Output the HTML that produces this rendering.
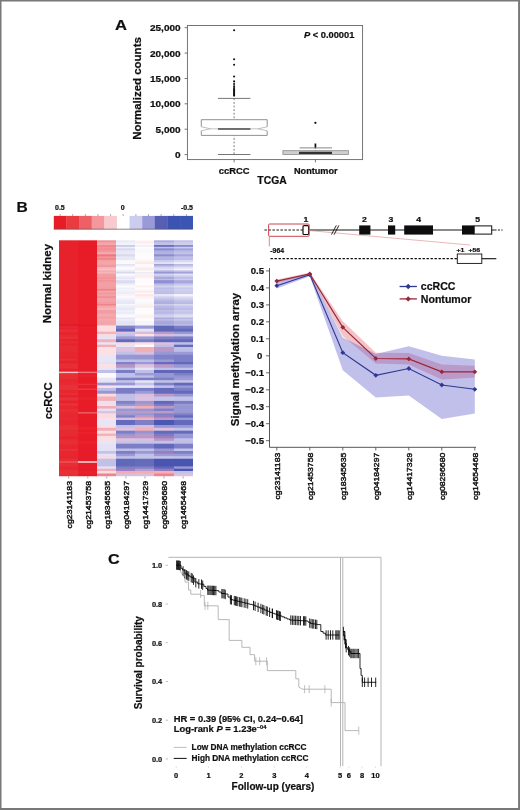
<!DOCTYPE html>
<html><head><meta charset="utf-8"><title>Figure</title>
<style>html,body{margin:0;padding:0;background:#fff}svg{display:block}text{font-family:"Liberation Sans",sans-serif}</style></head><body>
<svg width="520" height="810" viewBox="0 0 520 810">
<rect x="0" y="0" width="520" height="810" fill="#fff"/>
<path d="M0 0H520V810H0Z M1.5 1.5V808.1H518.1V1.5Z" fill="#787878" fill-rule="evenodd"/>
<defs><filter id="soft" x="0" y="0" width="520" height="810" filterUnits="userSpaceOnUse"><feGaussianBlur stdDeviation="0.3"/></filter></defs>
<g filter="url(#soft)">
<g id="panelA">
<text transform="translate(114.9 30) scale(1.12 1)" font-size="14.82" font-weight="bold" text-anchor="start" fill="#111" stroke="#111" stroke-width="0.22">A</text>
<rect x="187.4" y="25.5" width="175.20000000000002" height="134.1" fill="none" stroke="#666" stroke-width="0.9"/>
<line x1="184.6" y1="154.6" x2="187.4" y2="154.6" stroke="#555" stroke-width="0.8"/>
<text transform="translate(180.6 158.0) scale(1.09 1)" font-size="9.2" font-weight="bold" text-anchor="end" fill="#111" stroke="#111" stroke-width="0.22">0</text>
<line x1="184.6" y1="129.2" x2="187.4" y2="129.2" stroke="#555" stroke-width="0.8"/>
<text transform="translate(180.6 132.7) scale(1.09 1)" font-size="9.2" font-weight="bold" text-anchor="end" fill="#111" stroke="#111" stroke-width="0.22">5,000</text>
<line x1="184.6" y1="103.8" x2="187.4" y2="103.8" stroke="#555" stroke-width="0.8"/>
<text transform="translate(180.6 107.3) scale(1.09 1)" font-size="9.2" font-weight="bold" text-anchor="end" fill="#111" stroke="#111" stroke-width="0.22">10,000</text>
<line x1="184.6" y1="78.5" x2="187.4" y2="78.5" stroke="#555" stroke-width="0.8"/>
<text transform="translate(180.6 81.9) scale(1.09 1)" font-size="9.2" font-weight="bold" text-anchor="end" fill="#111" stroke="#111" stroke-width="0.22">15,000</text>
<line x1="184.6" y1="53.1" x2="187.4" y2="53.1" stroke="#555" stroke-width="0.8"/>
<text transform="translate(180.6 56.5) scale(1.09 1)" font-size="9.2" font-weight="bold" text-anchor="end" fill="#111" stroke="#111" stroke-width="0.22">20,000</text>
<line x1="184.6" y1="27.7" x2="187.4" y2="27.7" stroke="#555" stroke-width="0.8"/>
<text transform="translate(180.6 31.2) scale(1.09 1)" font-size="9.2" font-weight="bold" text-anchor="end" fill="#111" stroke="#111" stroke-width="0.22">25,000</text>
<text transform="translate(141.3 88.5) rotate(-90) scale(1.1 1)" font-size="10.45" font-weight="bold" text-anchor="middle" fill="#111" stroke="#111" stroke-width="0.22">Normalized counts</text>
<line x1="234.1" y1="98.4" x2="234.1" y2="154.5" stroke="#666" stroke-width="0.9" stroke-dasharray="1.8 1.8"/>
<path d="M201.3 119.7 H267.2 V135.4 H201.3 Z" fill="#fff" stroke="none"/>
<path d="M201.3 126.8 V119.7 H267.2 V126.8 M267.2 130.8 V135.4 H201.3 V130.8" fill="none" stroke="#858585" stroke-width="0.9"/>
<path d="M201.3 126.8 L210.5 128.8 L201.3 130.8 M267.2 126.8 L258 128.8 L267.2 130.8" fill="none" stroke="#b0b0b0" stroke-width="0.8"/>
<rect x="199" y="127.3" width="2.2" height="3" fill="#fff"/><rect x="267.4" y="127.3" width="2.2" height="3" fill="#fff"/>
<line x1="218" y1="128.8" x2="250.4" y2="128.8" stroke="#333" stroke-width="1.7"/>
<line x1="210.5" y1="128.8" x2="258" y2="128.8" stroke="#aaa" stroke-width="0.7"/>
<line x1="218" y1="98.4" x2="250.4" y2="98.4" stroke="#666" stroke-width="0.9"/>
<line x1="218" y1="154.5" x2="250.4" y2="154.5" stroke="#666" stroke-width="0.9"/>
<circle cx="234.1" cy="30.2" r="1.05" fill="#111"/>
<circle cx="234.1" cy="59.3" r="1.05" fill="#111"/>
<circle cx="234.1" cy="64.7" r="1.05" fill="#111"/>
<circle cx="234.1" cy="76.5" r="1.05" fill="#111"/>
<circle cx="234.1" cy="81.4" r="1.05" fill="#111"/>
<circle cx="234.1" cy="84" r="1.05" fill="#111"/>
<circle cx="234.1" cy="86.2" r="1.05" fill="#111"/>
<circle cx="234.1" cy="88" r="1.05" fill="#111"/>
<circle cx="234.1" cy="89.4" r="1.05" fill="#111"/>
<circle cx="234.1" cy="90.6" r="1.05" fill="#111"/>
<circle cx="234.1" cy="91.8" r="1.05" fill="#111"/>
<circle cx="234.1" cy="92.8" r="1.05" fill="#111"/>
<circle cx="234.1" cy="93.8" r="1.05" fill="#111"/>
<circle cx="234.1" cy="94.8" r="1.05" fill="#111"/>
<circle cx="234.1" cy="95.6" r="1.05" fill="#111"/>
<rect x="282.9" y="150.7" width="65.5" height="3.7" fill="#cfcfcf" stroke="#8a8a8a" stroke-width="0.8"/>
<line x1="299" y1="152.9" x2="332" y2="152.9" stroke="#333" stroke-width="2.1"/>
<line x1="299.6" y1="147.9" x2="332" y2="147.9" stroke="#777" stroke-width="0.9"/>
<line x1="315.4" y1="147.9" x2="315.4" y2="150.7" stroke="#777" stroke-width="0.8" stroke-dasharray="1 1"/>
<circle cx="315.4" cy="122.8" r="1.15" fill="#111"/>
<line x1="315.4" y1="143.5" x2="315.4" y2="147.6" stroke="#111" stroke-width="1.7"/>
<line x1="234.1" y1="159.6" x2="234.1" y2="162.4" stroke="#555" stroke-width="0.8"/>
<line x1="315.4" y1="159.6" x2="315.4" y2="162.4" stroke="#555" stroke-width="0.8"/>
<text transform="translate(234.1 173.5) scale(1.07 1)" font-size="8.79" font-weight="bold" text-anchor="middle" fill="#111" stroke="#111" stroke-width="0.22">ccRCC</text>
<text transform="translate(315.8 173.5) scale(1.07 1)" font-size="8.55" font-weight="bold" text-anchor="middle" fill="#111" stroke="#111" stroke-width="0.22">Nontumor</text>
<text transform="translate(272 184.4) scale(1.035 1)" font-size="10.05" font-weight="bold" text-anchor="middle" fill="#111" stroke="#111" stroke-width="0.22">TCGA</text>
<text transform="translate(304 38.3) scale(1.03 1)" font-size="9.03" font-weight="bold" text-anchor="start" fill="#111" stroke="#111" stroke-width="0.22"><tspan font-style="italic">P</tspan> &lt; 0.00001</text>
</g>
<g id="panelB">
<text transform="translate(16.6 211.6) scale(1.06 1)" font-size="14.7" font-weight="bold" text-anchor="start" fill="#111" stroke="#111" stroke-width="0.22">B</text>
<rect x="53.80" y="215.9" width="12.93" height="13.299999999999983" fill="#e81e28"/>
<rect x="66.43" y="215.9" width="12.93" height="13.299999999999983" fill="#ea3a40"/>
<rect x="79.05" y="215.9" width="12.93" height="13.299999999999983" fill="#ee6065"/>
<rect x="91.68" y="215.9" width="12.93" height="13.299999999999983" fill="#f3989d"/>
<rect x="104.31" y="215.9" width="12.93" height="13.299999999999983" fill="#f8cace"/>
<rect x="116.94" y="215.9" width="12.93" height="13.299999999999983" fill="#ffffff"/>
<rect x="129.56" y="215.9" width="12.93" height="13.299999999999983" fill="#ccccee"/>
<rect x="142.19" y="215.9" width="12.93" height="13.299999999999983" fill="#9a9ad9"/>
<rect x="154.82" y="215.9" width="12.93" height="13.299999999999983" fill="#565eb4"/>
<rect x="167.45" y="215.9" width="12.93" height="13.299999999999983" fill="#3e52b1"/>
<rect x="180.07" y="215.9" width="12.93" height="13.299999999999983" fill="#3a54b4"/>
<line x1="53.8" y1="229.2" x2="192.7" y2="229.2" stroke="#555" stroke-width="0.7"/>
<line x1="60.1" y1="214.1" x2="60.1" y2="215.9" stroke="#666" stroke-width="0.6"/>
<line x1="72.7" y1="214.1" x2="72.7" y2="215.9" stroke="#666" stroke-width="0.6"/>
<line x1="85.4" y1="214.1" x2="85.4" y2="215.9" stroke="#666" stroke-width="0.6"/>
<line x1="98.0" y1="214.1" x2="98.0" y2="215.9" stroke="#666" stroke-width="0.6"/>
<line x1="110.6" y1="214.1" x2="110.6" y2="215.9" stroke="#666" stroke-width="0.6"/>
<line x1="123.2" y1="214.1" x2="123.2" y2="215.9" stroke="#666" stroke-width="0.6"/>
<line x1="135.9" y1="214.1" x2="135.9" y2="215.9" stroke="#666" stroke-width="0.6"/>
<line x1="148.5" y1="214.1" x2="148.5" y2="215.9" stroke="#666" stroke-width="0.6"/>
<line x1="161.1" y1="214.1" x2="161.1" y2="215.9" stroke="#666" stroke-width="0.6"/>
<line x1="173.8" y1="214.1" x2="173.8" y2="215.9" stroke="#666" stroke-width="0.6"/>
<line x1="186.4" y1="214.1" x2="186.4" y2="215.9" stroke="#666" stroke-width="0.6"/>
<text transform="translate(55 210.4) scale(1.0 1)" font-size="7.0" font-weight="bold" text-anchor="start" fill="#111" stroke="#111" stroke-width="0.22">0.5</text>
<text transform="translate(122.8 210.4) scale(1.0 1)" font-size="7.0" font-weight="bold" text-anchor="middle" fill="#111" stroke="#111" stroke-width="0.22">0</text>
<text transform="translate(193 210.4) scale(1.0 1)" font-size="7.0" font-weight="bold" text-anchor="end" fill="#111" stroke="#111" stroke-width="0.22">-0.5</text>
<defs><filter id="hb" x="-2%" y="-2%" width="104%" height="104%"><feGaussianBlur stdDeviation="0.35 0.55"/></filter></defs>
<g filter="url(#hb)" shape-rendering="crispEdges">
<rect x="59.20" y="240" width="19.56" height="1" fill="#ee646a"/>
<rect x="59.20" y="241" width="19.56" height="1" fill="#e7212a"/>
<rect x="59.20" y="242" width="19.56" height="1" fill="#e7242d"/>
<rect x="59.20" y="243" width="19.56" height="1" fill="#e7222b"/>
<rect x="59.20" y="244" width="19.56" height="3" fill="#e7212a"/>
<rect x="59.20" y="247" width="19.56" height="3" fill="#e7242d"/>
<rect x="59.20" y="250" width="19.56" height="1" fill="#e7222b"/>
<rect x="59.20" y="251" width="19.56" height="9" fill="#e7212a"/>
<rect x="59.20" y="260" width="19.56" height="2" fill="#e7242d"/>
<rect x="59.20" y="262" width="19.56" height="2" fill="#e7212d"/>
<rect x="59.20" y="264" width="19.56" height="8" fill="#e7242d"/>
<rect x="59.20" y="272" width="19.56" height="3" fill="#e7212a"/>
<rect x="59.20" y="275" width="19.56" height="1" fill="#e7222b"/>
<rect x="59.20" y="276" width="19.56" height="2" fill="#e7242d"/>
<rect x="59.20" y="278" width="19.56" height="1" fill="#e7232c"/>
<rect x="59.20" y="279" width="19.56" height="2" fill="#e7212a"/>
<rect x="59.20" y="281" width="19.56" height="1" fill="#e7222b"/>
<rect x="59.20" y="282" width="19.56" height="1" fill="#e7242d"/>
<rect x="59.20" y="283" width="19.56" height="1" fill="#e7222b"/>
<rect x="59.20" y="284" width="19.56" height="6" fill="#e7212a"/>
<rect x="59.20" y="290" width="19.56" height="1" fill="#e7222b"/>
<rect x="59.20" y="291" width="19.56" height="1" fill="#e7242d"/>
<rect x="59.20" y="292" width="19.56" height="1" fill="#e7232c"/>
<rect x="59.20" y="293" width="19.56" height="1" fill="#e7212a"/>
<rect x="59.20" y="294" width="19.56" height="2" fill="#e7242d"/>
<rect x="59.20" y="296" width="19.56" height="1" fill="#e7222b"/>
<rect x="59.20" y="297" width="19.56" height="2" fill="#e7212a"/>
<rect x="59.20" y="299" width="19.56" height="1" fill="#e7222b"/>
<rect x="59.20" y="300" width="19.56" height="1" fill="#e7242d"/>
<rect x="59.20" y="301" width="19.56" height="1" fill="#e7232c"/>
<rect x="59.20" y="302" width="19.56" height="2" fill="#e7212a"/>
<rect x="59.20" y="304" width="19.56" height="3" fill="#e7242d"/>
<rect x="59.20" y="307" width="19.56" height="1" fill="#e7232c"/>
<rect x="59.20" y="308" width="19.56" height="2" fill="#e7212a"/>
<rect x="59.20" y="310" width="19.56" height="3" fill="#e7242d"/>
<rect x="59.20" y="313" width="19.56" height="1" fill="#e7232c"/>
<rect x="59.20" y="314" width="19.56" height="1" fill="#e7212a"/>
<rect x="59.20" y="315" width="19.56" height="1" fill="#e7222b"/>
<rect x="59.20" y="316" width="19.56" height="4" fill="#e7242d"/>
<rect x="59.20" y="320" width="19.56" height="1" fill="#e7232c"/>
<rect x="59.20" y="321" width="19.56" height="3" fill="#e7212a"/>
<rect x="59.20" y="324" width="19.56" height="1" fill="#e01f27"/>
<rect x="59.20" y="325" width="19.56" height="1" fill="#da2028"/>
<rect x="59.20" y="326" width="19.56" height="1" fill="#e72730"/>
<rect x="59.20" y="327" width="19.56" height="1" fill="#e7252e"/>
<rect x="59.20" y="328" width="19.56" height="1" fill="#e7242d"/>
<rect x="59.20" y="329" width="19.56" height="1" fill="#e72b34"/>
<rect x="59.20" y="330" width="19.56" height="2" fill="#e72d36"/>
<rect x="59.20" y="332" width="19.56" height="1" fill="#e72730"/>
<rect x="59.20" y="333" width="19.56" height="1" fill="#e7242d"/>
<rect x="59.20" y="334" width="19.56" height="1" fill="#e7262f"/>
<rect x="59.20" y="335" width="19.56" height="2" fill="#e72a33"/>
<rect x="59.20" y="337" width="19.56" height="1" fill="#e73036"/>
<rect x="59.20" y="338" width="19.56" height="1" fill="#e72e35"/>
<rect x="59.20" y="339" width="19.56" height="2" fill="#e7242d"/>
<rect x="59.20" y="341" width="19.56" height="2" fill="#e72a33"/>
<rect x="59.20" y="343" width="19.56" height="1" fill="#e7252e"/>
<rect x="59.20" y="344" width="19.56" height="1" fill="#e7242d"/>
<rect x="59.20" y="345" width="19.56" height="1" fill="#e7272e"/>
<rect x="59.20" y="346" width="19.56" height="2" fill="#e72a30"/>
<rect x="59.20" y="348" width="19.56" height="1" fill="#e72a32"/>
<rect x="59.20" y="349" width="19.56" height="2" fill="#e72a33"/>
<rect x="59.20" y="351" width="19.56" height="1" fill="#e72932"/>
<rect x="59.20" y="352" width="19.56" height="4" fill="#e72730"/>
<rect x="59.20" y="356" width="19.56" height="1" fill="#e7252e"/>
<rect x="59.20" y="357" width="19.56" height="1" fill="#e7242d"/>
<rect x="59.20" y="358" width="19.56" height="1" fill="#e72b32"/>
<rect x="59.20" y="359" width="19.56" height="1" fill="#e72d33"/>
<rect x="59.20" y="360" width="19.56" height="1" fill="#e72a31"/>
<rect x="59.20" y="361" width="19.56" height="2" fill="#e7242d"/>
<rect x="59.20" y="363" width="19.56" height="1" fill="#e72932"/>
<rect x="59.20" y="364" width="19.56" height="4" fill="#e72d36"/>
<rect x="59.20" y="368" width="19.56" height="1" fill="#e72932"/>
<rect x="59.20" y="369" width="19.56" height="2" fill="#e7242d"/>
<rect x="59.20" y="371" width="19.56" height="1" fill="#ed545b"/>
<rect x="59.20" y="372" width="19.56" height="1" fill="#fac4c6"/>
<rect x="59.20" y="373" width="19.56" height="1" fill="#e93f44"/>
<rect x="59.20" y="374" width="19.56" height="1" fill="#e73036"/>
<rect x="59.20" y="375" width="19.56" height="1" fill="#e72e34"/>
<rect x="59.20" y="376" width="19.56" height="1" fill="#e72d33"/>
<rect x="59.20" y="377" width="19.56" height="2" fill="#e72d36"/>
<rect x="59.20" y="379" width="19.56" height="1" fill="#e72932"/>
<rect x="59.20" y="380" width="19.56" height="2" fill="#e72730"/>
<rect x="59.20" y="382" width="19.56" height="1" fill="#e72932"/>
<rect x="59.20" y="383" width="19.56" height="1" fill="#e72a33"/>
<rect x="59.20" y="384" width="19.56" height="1" fill="#e72c34"/>
<rect x="59.20" y="385" width="19.56" height="5" fill="#e73036"/>
<rect x="59.20" y="390" width="19.56" height="1" fill="#e7282e"/>
<rect x="59.20" y="391" width="19.56" height="1" fill="#e7272d"/>
<rect x="59.20" y="392" width="19.56" height="1" fill="#e7282f"/>
<rect x="59.20" y="393" width="19.56" height="2" fill="#e72d36"/>
<rect x="59.20" y="395" width="19.56" height="2" fill="#e7242d"/>
<rect x="59.20" y="397" width="19.56" height="1" fill="#e72b34"/>
<rect x="59.20" y="398" width="19.56" height="2" fill="#e73039"/>
<rect x="59.20" y="400" width="19.56" height="1" fill="#e72932"/>
<rect x="59.20" y="401" width="19.56" height="2" fill="#e7242d"/>
<rect x="59.20" y="403" width="19.56" height="1" fill="#e72e37"/>
<rect x="59.20" y="404" width="19.56" height="1" fill="#e73039"/>
<rect x="59.20" y="405" width="19.56" height="1" fill="#e72e37"/>
<rect x="59.20" y="406" width="19.56" height="3" fill="#e72730"/>
<rect x="59.20" y="409" width="19.56" height="3" fill="#e72d36"/>
<rect x="59.20" y="412" width="19.56" height="2" fill="#e72a33"/>
<rect x="59.20" y="414" width="19.56" height="3" fill="#e72730"/>
<rect x="59.20" y="417" width="19.56" height="1" fill="#e72932"/>
<rect x="59.20" y="418" width="19.56" height="2" fill="#e72a33"/>
<rect x="59.20" y="420" width="19.56" height="5" fill="#e72730"/>
<rect x="59.20" y="425" width="19.56" height="2" fill="#e72d36"/>
<rect x="59.20" y="427" width="19.56" height="2" fill="#e73036"/>
<rect x="59.20" y="429" width="19.56" height="1" fill="#e72f35"/>
<rect x="59.20" y="430" width="19.56" height="2" fill="#e72a33"/>
<rect x="59.20" y="432" width="19.56" height="1" fill="#e72a31"/>
<rect x="59.20" y="433" width="19.56" height="1" fill="#e72a30"/>
<rect x="59.20" y="434" width="19.56" height="1" fill="#e72a32"/>
<rect x="59.20" y="435" width="19.56" height="1" fill="#e72a33"/>
<rect x="59.20" y="436" width="19.56" height="1" fill="#e72831"/>
<rect x="59.20" y="437" width="19.56" height="2" fill="#e7242d"/>
<rect x="59.20" y="439" width="19.56" height="1" fill="#e72a33"/>
<rect x="59.20" y="440" width="19.56" height="1" fill="#e72d36"/>
<rect x="59.20" y="441" width="19.56" height="1" fill="#e72d34"/>
<rect x="59.20" y="442" width="19.56" height="2" fill="#e72d33"/>
<rect x="59.20" y="444" width="19.56" height="1" fill="#e72931"/>
<rect x="59.20" y="445" width="19.56" height="3" fill="#e72730"/>
<rect x="59.20" y="448" width="19.56" height="1" fill="#e72830"/>
<rect x="59.20" y="449" width="19.56" height="2" fill="#e73036"/>
<rect x="59.20" y="451" width="19.56" height="5" fill="#e72730"/>
<rect x="59.20" y="456" width="19.56" height="1" fill="#e7252e"/>
<rect x="59.20" y="457" width="19.56" height="1" fill="#e7242d"/>
<rect x="59.20" y="458" width="19.56" height="1" fill="#e72932"/>
<rect x="59.20" y="459" width="19.56" height="2" fill="#e72d36"/>
<rect x="59.20" y="461" width="19.56" height="2" fill="#ed494e"/>
<rect x="59.20" y="463" width="19.56" height="3" fill="#e72d36"/>
<rect x="59.20" y="466" width="19.56" height="1" fill="#e72b34"/>
<rect x="59.20" y="467" width="19.56" height="2" fill="#e72730"/>
<rect x="59.20" y="469" width="19.56" height="1" fill="#e72c33"/>
<rect x="59.20" y="470" width="19.56" height="1" fill="#e72d33"/>
<rect x="59.20" y="471" width="19.56" height="3" fill="#e73036"/>
<rect x="59.20" y="474" width="19.56" height="1" fill="#e72e34"/>
<rect x="59.20" y="475" width="19.56" height="1" fill="#e72d33"/>
<rect x="59.20" y="476" width="19.56" height="1" fill="#f17f83"/>
<rect x="78.26" y="240" width="19.56" height="1" fill="#ee6268"/>
<rect x="78.26" y="241" width="19.56" height="83" fill="#e71e27"/>
<rect x="78.26" y="324" width="19.56" height="1" fill="#e01c25"/>
<rect x="78.26" y="325" width="19.56" height="1" fill="#da1a22"/>
<rect x="78.26" y="326" width="19.56" height="3" fill="#e71e27"/>
<rect x="78.26" y="329" width="19.56" height="1" fill="#e71e29"/>
<rect x="78.26" y="330" width="19.56" height="2" fill="#e71e2a"/>
<rect x="78.26" y="332" width="19.56" height="1" fill="#e71e28"/>
<rect x="78.26" y="333" width="19.56" height="1" fill="#e71e27"/>
<rect x="78.26" y="334" width="19.56" height="1" fill="#e71e28"/>
<rect x="78.26" y="335" width="19.56" height="2" fill="#e71e2a"/>
<rect x="78.26" y="337" width="19.56" height="2" fill="#e71e27"/>
<rect x="78.26" y="339" width="19.56" height="4" fill="#e71e2a"/>
<rect x="78.26" y="343" width="19.56" height="1" fill="#e71e28"/>
<rect x="78.26" y="344" width="19.56" height="9" fill="#e71e27"/>
<rect x="78.26" y="353" width="19.56" height="1" fill="#e71e29"/>
<rect x="78.26" y="354" width="19.56" height="9" fill="#e71e2a"/>
<rect x="78.26" y="363" width="19.56" height="1" fill="#e71e28"/>
<rect x="78.26" y="364" width="19.56" height="2" fill="#e71e27"/>
<rect x="78.26" y="366" width="19.56" height="1" fill="#e71e29"/>
<rect x="78.26" y="367" width="19.56" height="1" fill="#e71e2a"/>
<rect x="78.26" y="368" width="19.56" height="1" fill="#e71e29"/>
<rect x="78.26" y="369" width="19.56" height="2" fill="#e71e27"/>
<rect x="78.26" y="371" width="19.56" height="1" fill="#ea3940"/>
<rect x="78.26" y="372" width="19.56" height="1" fill="#f1787a"/>
<rect x="78.26" y="373" width="19.56" height="1" fill="#e82732"/>
<rect x="78.26" y="374" width="19.56" height="1" fill="#e71e2a"/>
<rect x="78.26" y="375" width="19.56" height="1" fill="#e7202a"/>
<rect x="78.26" y="376" width="19.56" height="1" fill="#e7212a"/>
<rect x="78.26" y="377" width="19.56" height="6" fill="#e71e27"/>
<rect x="78.26" y="383" width="19.56" height="1" fill="#e8242c"/>
<rect x="78.26" y="384" width="19.56" height="1" fill="#ea3339"/>
<rect x="78.26" y="385" width="19.56" height="2" fill="#e71e2a"/>
<rect x="78.26" y="387" width="19.56" height="1" fill="#e71e27"/>
<rect x="78.26" y="388" width="19.56" height="1" fill="#e92a32"/>
<rect x="78.26" y="389" width="19.56" height="1" fill="#ea3a3f"/>
<rect x="78.26" y="390" width="19.56" height="2" fill="#e71e2a"/>
<rect x="78.26" y="392" width="19.56" height="1" fill="#e71e29"/>
<rect x="78.26" y="393" width="19.56" height="4" fill="#e71e27"/>
<rect x="78.26" y="397" width="19.56" height="1" fill="#e72029"/>
<rect x="78.26" y="398" width="19.56" height="2" fill="#e7212a"/>
<rect x="78.26" y="400" width="19.56" height="1" fill="#e71f28"/>
<rect x="78.26" y="401" width="19.56" height="8" fill="#e71e27"/>
<rect x="78.26" y="409" width="19.56" height="3" fill="#e71e2a"/>
<rect x="78.26" y="412" width="19.56" height="1" fill="#ed575c"/>
<rect x="78.26" y="413" width="19.56" height="1" fill="#eb3f45"/>
<rect x="78.26" y="414" width="19.56" height="6" fill="#e71e27"/>
<rect x="78.26" y="420" width="19.56" height="5" fill="#e71e2a"/>
<rect x="78.26" y="425" width="19.56" height="2" fill="#e71e27"/>
<rect x="78.26" y="427" width="19.56" height="2" fill="#e7212a"/>
<rect x="78.26" y="429" width="19.56" height="1" fill="#e72029"/>
<rect x="78.26" y="430" width="19.56" height="2" fill="#e71e27"/>
<rect x="78.26" y="432" width="19.56" height="1" fill="#e72029"/>
<rect x="78.26" y="433" width="19.56" height="1" fill="#e7212a"/>
<rect x="78.26" y="434" width="19.56" height="1" fill="#e71f28"/>
<rect x="78.26" y="435" width="19.56" height="6" fill="#e71e27"/>
<rect x="78.26" y="441" width="19.56" height="1" fill="#e72029"/>
<rect x="78.26" y="442" width="19.56" height="2" fill="#e7212a"/>
<rect x="78.26" y="444" width="19.56" height="1" fill="#e71f28"/>
<rect x="78.26" y="445" width="19.56" height="4" fill="#e71e27"/>
<rect x="78.26" y="449" width="19.56" height="4" fill="#e71e2a"/>
<rect x="78.26" y="453" width="19.56" height="1" fill="#e71e28"/>
<rect x="78.26" y="454" width="19.56" height="2" fill="#e71e27"/>
<rect x="78.26" y="456" width="19.56" height="1" fill="#e71e29"/>
<rect x="78.26" y="457" width="19.56" height="4" fill="#e71e2a"/>
<rect x="78.26" y="461" width="19.56" height="2" fill="#f6acb0"/>
<rect x="78.26" y="463" width="19.56" height="1" fill="#e71e27"/>
<rect x="78.26" y="464" width="19.56" height="1" fill="#e71e29"/>
<rect x="78.26" y="465" width="19.56" height="1" fill="#e71e2a"/>
<rect x="78.26" y="466" width="19.56" height="1" fill="#e71e29"/>
<rect x="78.26" y="467" width="19.56" height="2" fill="#e71e27"/>
<rect x="78.26" y="469" width="19.56" height="2" fill="#e71e2a"/>
<rect x="78.26" y="471" width="19.56" height="3" fill="#e7212a"/>
<rect x="78.26" y="474" width="19.56" height="1" fill="#e71f28"/>
<rect x="78.26" y="475" width="19.56" height="1" fill="#e71e27"/>
<rect x="78.26" y="476" width="19.56" height="1" fill="#f1787d"/>
<rect x="97.31" y="240" width="19.56" height="1" fill="#f5b1b3"/>
<rect x="97.31" y="241" width="19.56" height="1" fill="#f09194"/>
<rect x="97.31" y="242" width="19.56" height="1" fill="#f39fa2"/>
<rect x="97.31" y="243" width="19.56" height="1" fill="#f3a5ab"/>
<rect x="97.31" y="244" width="19.56" height="1" fill="#f3a8ae"/>
<rect x="97.31" y="245" width="19.56" height="1" fill="#f0878d"/>
<rect x="97.31" y="246" width="19.56" height="1" fill="#f0888e"/>
<rect x="97.31" y="247" width="19.56" height="1" fill="#f39396"/>
<rect x="97.31" y="248" width="19.56" height="1" fill="#f18f94"/>
<rect x="97.31" y="249" width="19.56" height="1" fill="#f08d93"/>
<rect x="97.31" y="250" width="19.56" height="1" fill="#f2949a"/>
<rect x="97.31" y="251" width="19.56" height="1" fill="#f3969c"/>
<rect x="97.31" y="252" width="19.56" height="1" fill="#f3a6ac"/>
<rect x="97.31" y="253" width="19.56" height="1" fill="#f3abb1"/>
<rect x="97.31" y="254" width="19.56" height="1" fill="#f1878d"/>
<rect x="97.31" y="255" width="19.56" height="1" fill="#f0757b"/>
<rect x="97.31" y="256" width="19.56" height="1" fill="#f28a90"/>
<rect x="97.31" y="257" width="19.56" height="1" fill="#f29399"/>
<rect x="97.31" y="258" width="19.56" height="2" fill="#f0878a"/>
<rect x="97.31" y="260" width="19.56" height="2" fill="#f3a2a5"/>
<rect x="97.31" y="262" width="19.56" height="2" fill="#f3a5a8"/>
<rect x="97.31" y="264" width="19.56" height="1" fill="#f3a2a5"/>
<rect x="97.31" y="265" width="19.56" height="1" fill="#f3999c"/>
<rect x="97.31" y="266" width="19.56" height="1" fill="#f3989b"/>
<rect x="97.31" y="267" width="19.56" height="1" fill="#f6b4b7"/>
<rect x="97.31" y="268" width="19.56" height="1" fill="#f6b9bd"/>
<rect x="97.31" y="269" width="19.56" height="1" fill="#f6c3c9"/>
<rect x="97.31" y="270" width="19.56" height="1" fill="#f4b3b9"/>
<rect x="97.31" y="271" width="19.56" height="1" fill="#f3acb2"/>
<rect x="97.31" y="272" width="19.56" height="1" fill="#f6b7ba"/>
<rect x="97.31" y="273" width="19.56" height="1" fill="#f5abaf"/>
<rect x="97.31" y="274" width="19.56" height="3" fill="#f39ca2"/>
<rect x="97.31" y="277" width="19.56" height="2" fill="#f3959b"/>
<rect x="97.31" y="279" width="19.56" height="1" fill="#f39ca2"/>
<rect x="97.31" y="280" width="19.56" height="1" fill="#f3949a"/>
<rect x="97.31" y="281" width="19.56" height="1" fill="#f3979c"/>
<rect x="97.31" y="282" width="19.56" height="1" fill="#f39fa2"/>
<rect x="97.31" y="283" width="19.56" height="1" fill="#f39fa4"/>
<rect x="97.31" y="284" width="19.56" height="3" fill="#f39fa5"/>
<rect x="97.31" y="287" width="19.56" height="1" fill="#f39da2"/>
<rect x="97.31" y="288" width="19.56" height="1" fill="#f39b9e"/>
<rect x="97.31" y="289" width="19.56" height="1" fill="#f08184"/>
<rect x="97.31" y="290" width="19.56" height="1" fill="#f18f93"/>
<rect x="97.31" y="291" width="19.56" height="1" fill="#f3a5ab"/>
<rect x="97.31" y="292" width="19.56" height="1" fill="#f3a1a7"/>
<rect x="97.31" y="293" width="19.56" height="1" fill="#f3969c"/>
<rect x="97.31" y="294" width="19.56" height="1" fill="#f3a1a7"/>
<rect x="97.31" y="295" width="19.56" height="1" fill="#f3a2a8"/>
<rect x="97.31" y="296" width="19.56" height="1" fill="#f19397"/>
<rect x="97.31" y="297" width="19.56" height="1" fill="#f19195"/>
<rect x="97.31" y="298" width="19.56" height="3" fill="#f3a2a8"/>
<rect x="97.31" y="301" width="19.56" height="1" fill="#f3a0a6"/>
<rect x="97.31" y="302" width="19.56" height="2" fill="#f3999f"/>
<rect x="97.31" y="304" width="19.56" height="1" fill="#f08389"/>
<rect x="97.31" y="305" width="19.56" height="1" fill="#f29599"/>
<rect x="97.31" y="306" width="19.56" height="1" fill="#f3a8ab"/>
<rect x="97.31" y="307" width="19.56" height="1" fill="#f4abae"/>
<rect x="97.31" y="308" width="19.56" height="2" fill="#f6b4ba"/>
<rect x="97.31" y="310" width="19.56" height="1" fill="#f39da3"/>
<rect x="97.31" y="311" width="19.56" height="2" fill="#f39ca2"/>
<rect x="97.31" y="313" width="19.56" height="1" fill="#f3a0a6"/>
<rect x="97.31" y="314" width="19.56" height="1" fill="#f3abb1"/>
<rect x="97.31" y="315" width="19.56" height="1" fill="#f3a9ad"/>
<rect x="97.31" y="316" width="19.56" height="1" fill="#f3a5a8"/>
<rect x="97.31" y="317" width="19.56" height="1" fill="#f3a2a6"/>
<rect x="97.31" y="318" width="19.56" height="1" fill="#f3a0a6"/>
<rect x="97.31" y="319" width="19.56" height="1" fill="#f3abae"/>
<rect x="97.31" y="320" width="19.56" height="1" fill="#f3aaad"/>
<rect x="97.31" y="321" width="19.56" height="3" fill="#f3a5ab"/>
<rect x="97.31" y="324" width="19.56" height="1" fill="#f3a7ad"/>
<rect x="97.31" y="325" width="19.56" height="1" fill="#f7c6ca"/>
<rect x="97.31" y="326" width="19.56" height="5" fill="#fadee2"/>
<rect x="97.31" y="331" width="19.56" height="1" fill="#f8ccd1"/>
<rect x="97.31" y="332" width="19.56" height="2" fill="#f6b2b7"/>
<rect x="97.31" y="334" width="19.56" height="2" fill="#f8dce1"/>
<rect x="97.31" y="336" width="19.56" height="1" fill="#ede0ed"/>
<rect x="97.31" y="337" width="19.56" height="2" fill="#e5e3f5"/>
<rect x="97.31" y="339" width="19.56" height="1" fill="#efbfc9"/>
<rect x="97.31" y="340" width="19.56" height="2" fill="#f4b0b6"/>
<rect x="97.31" y="342" width="19.56" height="1" fill="#eadbe9"/>
<rect x="97.31" y="343" width="19.56" height="1" fill="#e7e5f6"/>
<rect x="97.31" y="344" width="19.56" height="1" fill="#ebd5e2"/>
<rect x="97.31" y="345" width="19.56" height="2" fill="#f3afb5"/>
<rect x="97.31" y="347" width="19.56" height="7" fill="#fce0e3"/>
<rect x="97.31" y="354" width="19.56" height="1" fill="#f6e2e9"/>
<rect x="97.31" y="355" width="19.56" height="5" fill="#e8e6f6"/>
<rect x="97.31" y="360" width="19.56" height="2" fill="#e7e5f6"/>
<rect x="97.31" y="362" width="19.56" height="2" fill="#e3e1f4"/>
<rect x="97.31" y="364" width="19.56" height="1" fill="#f7e0e6"/>
<rect x="97.31" y="365" width="19.56" height="2" fill="#fce0e3"/>
<rect x="97.31" y="367" width="19.56" height="1" fill="#f6e1e8"/>
<rect x="97.31" y="368" width="19.56" height="2" fill="#e6e4f5"/>
<rect x="97.31" y="370" width="19.56" height="3" fill="#c0bfe7"/>
<rect x="97.31" y="373" width="19.56" height="2" fill="#fef9fb"/>
<rect x="97.31" y="375" width="19.56" height="2" fill="#fdf8fb"/>
<rect x="97.31" y="377" width="19.56" height="1" fill="#f7f2f9"/>
<rect x="97.31" y="378" width="19.56" height="2" fill="#e7e5f6"/>
<rect x="97.31" y="380" width="19.56" height="2" fill="#e4e2f4"/>
<rect x="97.31" y="382" width="19.56" height="1" fill="#cdcbea"/>
<rect x="97.31" y="383" width="19.56" height="2" fill="#9797d5"/>
<rect x="97.31" y="385" width="19.56" height="1" fill="#d4c3dd"/>
<rect x="97.31" y="386" width="19.56" height="1" fill="#fce0e3"/>
<rect x="97.31" y="387" width="19.56" height="1" fill="#f6dde3"/>
<rect x="97.31" y="388" width="19.56" height="2" fill="#bfbee7"/>
<rect x="97.31" y="390" width="19.56" height="1" fill="#b7b6e3"/>
<rect x="97.31" y="391" width="19.56" height="2" fill="#9696d4"/>
<rect x="97.31" y="393" width="19.56" height="1" fill="#b4abd8"/>
<rect x="97.31" y="394" width="19.56" height="2" fill="#f9dde1"/>
<rect x="97.31" y="396" width="19.56" height="1" fill="#f6c6cc"/>
<rect x="97.31" y="397" width="19.56" height="3" fill="#f4b0b6"/>
<rect x="97.31" y="400" width="19.56" height="1" fill="#f2b5bc"/>
<rect x="97.31" y="401" width="19.56" height="2" fill="#e4e2f4"/>
<rect x="97.31" y="403" width="19.56" height="1" fill="#e9e1f1"/>
<rect x="97.31" y="404" width="19.56" height="2" fill="#f9dde2"/>
<rect x="97.31" y="406" width="19.56" height="2" fill="#f1adb5"/>
<rect x="97.31" y="408" width="19.56" height="1" fill="#ebc2ce"/>
<rect x="97.31" y="409" width="19.56" height="2" fill="#e3e1f4"/>
<rect x="97.31" y="411" width="19.56" height="2" fill="#dcc2df"/>
<rect x="97.31" y="413" width="19.56" height="1" fill="#edd2e0"/>
<rect x="97.31" y="414" width="19.56" height="1" fill="#f9dde1"/>
<rect x="97.31" y="415" width="19.56" height="1" fill="#f8dce1"/>
<rect x="97.31" y="416" width="19.56" height="1" fill="#f7dbe1"/>
<rect x="97.31" y="417" width="19.56" height="1" fill="#f9dde2"/>
<rect x="97.31" y="418" width="19.56" height="2" fill="#fce0e3"/>
<rect x="97.31" y="420" width="19.56" height="5" fill="#e8e6f6"/>
<rect x="97.31" y="425" width="19.56" height="2" fill="#fbdfe3"/>
<rect x="97.31" y="427" width="19.56" height="1" fill="#f9d5d9"/>
<rect x="97.31" y="428" width="19.56" height="2" fill="#f2aeb5"/>
<rect x="97.31" y="430" width="19.56" height="1" fill="#f4bcc3"/>
<rect x="97.31" y="431" width="19.56" height="2" fill="#fbdfe3"/>
<rect x="97.31" y="433" width="19.56" height="1" fill="#f8ccd1"/>
<rect x="97.31" y="434" width="19.56" height="1" fill="#f4b0b6"/>
<rect x="97.31" y="435" width="19.56" height="1" fill="#f4b4ba"/>
<rect x="97.31" y="436" width="19.56" height="2" fill="#f9dde1"/>
<rect x="97.31" y="438" width="19.56" height="1" fill="#fbdfe2"/>
<rect x="97.31" y="439" width="19.56" height="1" fill="#fbdfe3"/>
<rect x="97.31" y="440" width="19.56" height="1" fill="#f7e1e6"/>
<rect x="97.31" y="441" width="19.56" height="2" fill="#e7e5f6"/>
<rect x="97.31" y="443" width="19.56" height="1" fill="#e6e4f5"/>
<rect x="97.31" y="444" width="19.56" height="4" fill="#e4e2f4"/>
<rect x="97.31" y="448" width="19.56" height="3" fill="#e3e1f4"/>
<rect x="97.31" y="451" width="19.56" height="2" fill="#c3c2e9"/>
<rect x="97.31" y="453" width="19.56" height="1" fill="#cdccec"/>
<rect x="97.31" y="454" width="19.56" height="2" fill="#e4e2f4"/>
<rect x="97.31" y="456" width="19.56" height="1" fill="#f3dce4"/>
<rect x="97.31" y="457" width="19.56" height="1" fill="#f7dbe1"/>
<rect x="97.31" y="458" width="19.56" height="1" fill="#e7d3e3"/>
<rect x="97.31" y="459" width="19.56" height="7" fill="#c1c0e7"/>
<rect x="97.31" y="466" width="19.56" height="1" fill="#d6d4ef"/>
<rect x="97.31" y="467" width="19.56" height="1" fill="#e4e2f4"/>
<rect x="97.31" y="468" width="19.56" height="1" fill="#e9d3e1"/>
<rect x="97.31" y="469" width="19.56" height="2" fill="#f4b0b6"/>
<rect x="97.31" y="471" width="19.56" height="2" fill="#fadee2"/>
<rect x="97.31" y="473" width="19.56" height="1" fill="#f3b1b8"/>
<rect x="97.31" y="474" width="19.56" height="2" fill="#ec858d"/>
<rect x="97.31" y="476" width="19.56" height="1" fill="#f3b6bb"/>
<rect x="116.37" y="240" width="19.56" height="1" fill="#f0f0f9"/>
<rect x="116.37" y="241" width="19.56" height="1" fill="#eaeaf6"/>
<rect x="116.37" y="242" width="19.56" height="1" fill="#f0f0f9"/>
<rect x="116.37" y="243" width="19.56" height="1" fill="#f2f2f9"/>
<rect x="116.37" y="244" width="19.56" height="1" fill="#f3f3f9"/>
<rect x="116.37" y="245" width="19.56" height="1" fill="#cccced"/>
<rect x="116.37" y="246" width="19.56" height="1" fill="#d0d0ee"/>
<rect x="116.37" y="247" width="19.56" height="1" fill="#f0f0f9"/>
<rect x="116.37" y="248" width="19.56" height="1" fill="#e0e0f3"/>
<rect x="116.37" y="249" width="19.56" height="1" fill="#d8d8f0"/>
<rect x="116.37" y="250" width="19.56" height="1" fill="#e3e3f4"/>
<rect x="116.37" y="251" width="19.56" height="1" fill="#e7e7f6"/>
<rect x="116.37" y="252" width="19.56" height="1" fill="#e9e9f6"/>
<rect x="116.37" y="253" width="19.56" height="1" fill="#eaeaf6"/>
<rect x="116.37" y="254" width="19.56" height="1" fill="#dedef2"/>
<rect x="116.37" y="255" width="19.56" height="1" fill="#d8d8f0"/>
<rect x="116.37" y="256" width="19.56" height="1" fill="#e3e3f6"/>
<rect x="116.37" y="257" width="19.56" height="1" fill="#e9e9f8"/>
<rect x="116.37" y="258" width="19.56" height="2" fill="#e7e7f6"/>
<rect x="116.37" y="260" width="19.56" height="2" fill="#f9f9fc"/>
<rect x="116.37" y="262" width="19.56" height="2" fill="#fcf9f9"/>
<rect x="116.37" y="264" width="19.56" height="1" fill="#e3e3f4"/>
<rect x="116.37" y="265" width="19.56" height="1" fill="#eaeaf7"/>
<rect x="116.37" y="266" width="19.56" height="1" fill="#f2f2fa"/>
<rect x="116.37" y="267" width="19.56" height="1" fill="#fcfcff"/>
<rect x="116.37" y="268" width="19.56" height="1" fill="#fcfafc"/>
<rect x="116.37" y="269" width="19.56" height="1" fill="#fcf6f6"/>
<rect x="116.37" y="270" width="19.56" height="1" fill="#f0eef6"/>
<rect x="116.37" y="271" width="19.56" height="1" fill="#e8e8f5"/>
<rect x="116.37" y="272" width="19.56" height="1" fill="#d8d8f0"/>
<rect x="116.37" y="273" width="19.56" height="1" fill="#e8e8f5"/>
<rect x="116.37" y="274" width="19.56" height="1" fill="#fcfcfc"/>
<rect x="116.37" y="275" width="19.56" height="1" fill="#f6f6fb"/>
<rect x="116.37" y="276" width="19.56" height="1" fill="#f0f0f9"/>
<rect x="116.37" y="277" width="19.56" height="2" fill="#e7e7f7"/>
<rect x="116.37" y="279" width="19.56" height="1" fill="#f0f0f9"/>
<rect x="116.37" y="280" width="19.56" height="1" fill="#dedef4"/>
<rect x="116.37" y="281" width="19.56" height="2" fill="#dbdbf3"/>
<rect x="116.37" y="283" width="19.56" height="1" fill="#e7e7f6"/>
<rect x="116.37" y="284" width="19.56" height="1" fill="#f0f0f9"/>
<rect x="116.37" y="285" width="19.56" height="1" fill="#f5f5fa"/>
<rect x="116.37" y="286" width="19.56" height="1" fill="#fcfcfc"/>
<rect x="116.37" y="287" width="19.56" height="1" fill="#f5f5fa"/>
<rect x="116.37" y="288" width="19.56" height="1" fill="#f0f0f9"/>
<rect x="116.37" y="289" width="19.56" height="1" fill="#f3f3f9"/>
<rect x="116.37" y="290" width="19.56" height="1" fill="#f2f2f9"/>
<rect x="116.37" y="291" width="19.56" height="1" fill="#f0f0f9"/>
<rect x="116.37" y="292" width="19.56" height="1" fill="#efeff9"/>
<rect x="116.37" y="293" width="19.56" height="1" fill="#ededf9"/>
<rect x="116.37" y="294" width="19.56" height="1" fill="#fbf3f6"/>
<rect x="116.37" y="295" width="19.56" height="1" fill="#fcf3f6"/>
<rect x="116.37" y="296" width="19.56" height="1" fill="#fcf9fa"/>
<rect x="116.37" y="297" width="19.56" height="1" fill="#fafafc"/>
<rect x="116.37" y="298" width="19.56" height="1" fill="#f3f3fc"/>
<rect x="116.37" y="299" width="19.56" height="1" fill="#f1f1fb"/>
<rect x="116.37" y="300" width="19.56" height="1" fill="#eaeaf9"/>
<rect x="116.37" y="301" width="19.56" height="1" fill="#e9e9f8"/>
<rect x="116.37" y="302" width="19.56" height="2" fill="#e7e7f6"/>
<rect x="116.37" y="304" width="19.56" height="1" fill="#f8f8fc"/>
<rect x="116.37" y="305" width="19.56" height="1" fill="#f3f3fa"/>
<rect x="116.37" y="306" width="19.56" height="1" fill="#ededf9"/>
<rect x="116.37" y="307" width="19.56" height="1" fill="#ececf8"/>
<rect x="116.37" y="308" width="19.56" height="2" fill="#e7e7f6"/>
<rect x="116.37" y="310" width="19.56" height="2" fill="#f0f0f9"/>
<rect x="116.37" y="312" width="19.56" height="1" fill="#ebebf9"/>
<rect x="116.37" y="313" width="19.56" height="1" fill="#ededfa"/>
<rect x="116.37" y="314" width="19.56" height="1" fill="#f6f6fc"/>
<rect x="116.37" y="315" width="19.56" height="1" fill="#f8f8fc"/>
<rect x="116.37" y="316" width="19.56" height="1" fill="#fcfcfc"/>
<rect x="116.37" y="317" width="19.56" height="1" fill="#eeeef9"/>
<rect x="116.37" y="318" width="19.56" height="1" fill="#e5e5f6"/>
<rect x="116.37" y="319" width="19.56" height="1" fill="#ededf9"/>
<rect x="116.37" y="320" width="19.56" height="1" fill="#ebebf8"/>
<rect x="116.37" y="321" width="19.56" height="2" fill="#e4e4f6"/>
<rect x="116.37" y="323" width="19.56" height="1" fill="#e1e1f3"/>
<rect x="116.37" y="324" width="19.56" height="1" fill="#e7e7f5"/>
<rect x="116.37" y="325" width="19.56" height="1" fill="#bcbde2"/>
<rect x="116.37" y="326" width="19.56" height="2" fill="#7f82c8"/>
<rect x="116.37" y="328" width="19.56" height="1" fill="#7679c4"/>
<rect x="116.37" y="329" width="19.56" height="2" fill="#6066ba"/>
<rect x="116.37" y="331" width="19.56" height="1" fill="#928bc9"/>
<rect x="116.37" y="332" width="19.56" height="2" fill="#dcc2df"/>
<rect x="116.37" y="334" width="19.56" height="2" fill="#c4c3e9"/>
<rect x="116.37" y="336" width="19.56" height="1" fill="#aaa9dd"/>
<rect x="116.37" y="337" width="19.56" height="2" fill="#9898d5"/>
<rect x="116.37" y="339" width="19.56" height="1" fill="#7377c3"/>
<rect x="116.37" y="340" width="19.56" height="2" fill="#6369bb"/>
<rect x="116.37" y="342" width="19.56" height="1" fill="#dac4d9"/>
<rect x="116.37" y="343" width="19.56" height="1" fill="#f7dbe1"/>
<rect x="116.37" y="344" width="19.56" height="1" fill="#f2dee7"/>
<rect x="116.37" y="345" width="19.56" height="2" fill="#e7e5f5"/>
<rect x="116.37" y="347" width="19.56" height="4" fill="#ddc3df"/>
<rect x="116.37" y="351" width="19.56" height="1" fill="#d7c2e1"/>
<rect x="116.37" y="352" width="19.56" height="2" fill="#c1c0e7"/>
<rect x="116.37" y="354" width="19.56" height="1" fill="#b4b3e2"/>
<rect x="116.37" y="355" width="19.56" height="4" fill="#9797d4"/>
<rect x="116.37" y="359" width="19.56" height="1" fill="#ababde"/>
<rect x="116.37" y="360" width="19.56" height="2" fill="#c0bfe7"/>
<rect x="116.37" y="362" width="19.56" height="2" fill="#7f82c8"/>
<rect x="116.37" y="364" width="19.56" height="1" fill="#ac91c6"/>
<rect x="116.37" y="365" width="19.56" height="2" fill="#b795c6"/>
<rect x="116.37" y="367" width="19.56" height="1" fill="#bba3d0"/>
<rect x="116.37" y="368" width="19.56" height="2" fill="#c5c4e9"/>
<rect x="116.37" y="370" width="19.56" height="3" fill="#7a7dc6"/>
<rect x="116.37" y="373" width="19.56" height="3" fill="#c1c0e7"/>
<rect x="116.37" y="376" width="19.56" height="1" fill="#c1c0e8"/>
<rect x="116.37" y="377" width="19.56" height="1" fill="#acadde"/>
<rect x="116.37" y="378" width="19.56" height="2" fill="#7c7fc7"/>
<rect x="116.37" y="380" width="19.56" height="1" fill="#b6b5e2"/>
<rect x="116.37" y="381" width="19.56" height="1" fill="#c4c3e9"/>
<rect x="116.37" y="382" width="19.56" height="1" fill="#b7b6e3"/>
<rect x="116.37" y="383" width="19.56" height="2" fill="#9898d5"/>
<rect x="116.37" y="385" width="19.56" height="1" fill="#c8c6e9"/>
<rect x="116.37" y="386" width="19.56" height="1" fill="#e7e5f6"/>
<rect x="116.37" y="387" width="19.56" height="1" fill="#dcdbf1"/>
<rect x="116.37" y="388" width="19.56" height="5" fill="#7a7dc6"/>
<rect x="116.37" y="393" width="19.56" height="1" fill="#8f91d0"/>
<rect x="116.37" y="394" width="19.56" height="2" fill="#c0bfe7"/>
<rect x="116.37" y="396" width="19.56" height="4" fill="#c1c0e7"/>
<rect x="116.37" y="400" width="19.56" height="1" fill="#bab9e4"/>
<rect x="116.37" y="401" width="19.56" height="2" fill="#7f82c8"/>
<rect x="116.37" y="403" width="19.56" height="1" fill="#8486cb"/>
<rect x="116.37" y="404" width="19.56" height="2" fill="#9898d5"/>
<rect x="116.37" y="406" width="19.56" height="2" fill="#d9bfdd"/>
<rect x="116.37" y="408" width="19.56" height="1" fill="#beafda"/>
<rect x="116.37" y="409" width="19.56" height="2" fill="#9797d4"/>
<rect x="116.37" y="411" width="19.56" height="2" fill="#bb99c7"/>
<rect x="116.37" y="413" width="19.56" height="1" fill="#a89ad0"/>
<rect x="116.37" y="414" width="19.56" height="1" fill="#9b9bd6"/>
<rect x="116.37" y="415" width="19.56" height="1" fill="#8789cc"/>
<rect x="116.37" y="416" width="19.56" height="1" fill="#7e81c8"/>
<rect x="116.37" y="417" width="19.56" height="1" fill="#a299d0"/>
<rect x="116.37" y="418" width="19.56" height="2" fill="#d8bedd"/>
<rect x="116.37" y="420" width="19.56" height="5" fill="#656bbc"/>
<rect x="116.37" y="425" width="19.56" height="2" fill="#c0bfe7"/>
<rect x="116.37" y="427" width="19.56" height="1" fill="#c6c0e6"/>
<rect x="116.37" y="428" width="19.56" height="2" fill="#dcc2df"/>
<rect x="116.37" y="430" width="19.56" height="1" fill="#bfaed8"/>
<rect x="116.37" y="431" width="19.56" height="2" fill="#7c7fc7"/>
<rect x="116.37" y="433" width="19.56" height="1" fill="#8789cd"/>
<rect x="116.37" y="434" width="19.56" height="1" fill="#9898d5"/>
<rect x="116.37" y="435" width="19.56" height="1" fill="#9b98d4"/>
<rect x="116.37" y="436" width="19.56" height="2" fill="#b795c6"/>
<rect x="116.37" y="438" width="19.56" height="1" fill="#d2b5d8"/>
<rect x="116.37" y="439" width="19.56" height="1" fill="#ddc3df"/>
<rect x="116.37" y="440" width="19.56" height="1" fill="#d8c3e1"/>
<rect x="116.37" y="441" width="19.56" height="2" fill="#c4c3e9"/>
<rect x="116.37" y="443" width="19.56" height="1" fill="#aeaede"/>
<rect x="116.37" y="444" width="19.56" height="4" fill="#7b7ec6"/>
<rect x="116.37" y="448" width="19.56" height="1" fill="#9d9ed6"/>
<rect x="116.37" y="449" width="19.56" height="2" fill="#bfbee7"/>
<rect x="116.37" y="451" width="19.56" height="2" fill="#7b7ec6"/>
<rect x="116.37" y="453" width="19.56" height="1" fill="#8486cb"/>
<rect x="116.37" y="454" width="19.56" height="2" fill="#9a9ad6"/>
<rect x="116.37" y="456" width="19.56" height="1" fill="#bab9e4"/>
<rect x="116.37" y="457" width="19.56" height="1" fill="#c2c1e8"/>
<rect x="116.37" y="458" width="19.56" height="1" fill="#a5a6da"/>
<rect x="116.37" y="459" width="19.56" height="7" fill="#6167ba"/>
<rect x="116.37" y="466" width="19.56" height="1" fill="#7176c2"/>
<rect x="116.37" y="467" width="19.56" height="1" fill="#7c7fc7"/>
<rect x="116.37" y="468" width="19.56" height="1" fill="#867fc4"/>
<rect x="116.37" y="469" width="19.56" height="2" fill="#9e7ebe"/>
<rect x="116.37" y="471" width="19.56" height="2" fill="#f1adb5"/>
<rect x="116.37" y="473" width="19.56" height="1" fill="#e4b5c9"/>
<rect x="116.37" y="474" width="19.56" height="2" fill="#d8bedd"/>
<rect x="116.37" y="476" width="19.56" height="1" fill="#e8d8eb"/>
<rect x="135.43" y="240" width="19.56" height="1" fill="#fdf7f9"/>
<rect x="135.43" y="241" width="19.56" height="1" fill="#fcf2f5"/>
<rect x="135.43" y="242" width="19.56" height="1" fill="#fceaed"/>
<rect x="135.43" y="243" width="19.56" height="1" fill="#fcf5f6"/>
<rect x="135.43" y="244" width="19.56" height="1" fill="#fcf9f9"/>
<rect x="135.43" y="245" width="19.56" height="1" fill="#f0f0f9"/>
<rect x="135.43" y="246" width="19.56" height="1" fill="#f2f1f9"/>
<rect x="135.43" y="247" width="19.56" height="1" fill="#fffcfc"/>
<rect x="135.43" y="248" width="19.56" height="1" fill="#fbfafc"/>
<rect x="135.43" y="249" width="19.56" height="3" fill="#f9f9fc"/>
<rect x="135.43" y="252" width="19.56" height="1" fill="#fbfbfe"/>
<rect x="135.43" y="253" width="19.56" height="1" fill="#fcfcff"/>
<rect x="135.43" y="254" width="19.56" height="1" fill="#fcfcfd"/>
<rect x="135.43" y="255" width="19.56" height="1" fill="#fcfcfc"/>
<rect x="135.43" y="256" width="19.56" height="2" fill="#fcfcfe"/>
<rect x="135.43" y="258" width="19.56" height="2" fill="#fcfcfc"/>
<rect x="135.43" y="260" width="19.56" height="2" fill="#fcf3f6"/>
<rect x="135.43" y="262" width="19.56" height="1" fill="#fcebec"/>
<rect x="135.43" y="263" width="19.56" height="1" fill="#fceaea"/>
<rect x="135.43" y="264" width="19.56" height="1" fill="#fff8fa"/>
<rect x="135.43" y="265" width="19.56" height="1" fill="#fffbfc"/>
<rect x="135.43" y="266" width="19.56" height="1" fill="#fffafa"/>
<rect x="135.43" y="267" width="19.56" height="1" fill="#fcf0f0"/>
<rect x="135.43" y="268" width="19.56" height="1" fill="#fcedee"/>
<rect x="135.43" y="269" width="19.56" height="1" fill="#fce7ea"/>
<rect x="135.43" y="270" width="19.56" height="1" fill="#fcf5f6"/>
<rect x="135.43" y="271" width="19.56" height="1" fill="#fafafc"/>
<rect x="135.43" y="272" width="19.56" height="1" fill="#ededf9"/>
<rect x="135.43" y="273" width="19.56" height="1" fill="#f4eef5"/>
<rect x="135.43" y="274" width="19.56" height="1" fill="#fcf0f0"/>
<rect x="135.43" y="275" width="19.56" height="1" fill="#fcedef"/>
<rect x="135.43" y="276" width="19.56" height="1" fill="#fceaed"/>
<rect x="135.43" y="277" width="19.56" height="1" fill="#fcf3f4"/>
<rect x="135.43" y="278" width="19.56" height="1" fill="#fdf8f8"/>
<rect x="135.43" y="279" width="19.56" height="1" fill="#fffcfc"/>
<rect x="135.43" y="280" width="19.56" height="3" fill="#fcfcff"/>
<rect x="135.43" y="283" width="19.56" height="1" fill="#fefcfd"/>
<rect x="135.43" y="284" width="19.56" height="1" fill="#fffcfc"/>
<rect x="135.43" y="285" width="19.56" height="1" fill="#fef7f8"/>
<rect x="135.43" y="286" width="19.56" height="1" fill="#fcf0f3"/>
<rect x="135.43" y="287" width="19.56" height="1" fill="#fef7f8"/>
<rect x="135.43" y="288" width="19.56" height="1" fill="#fffcfc"/>
<rect x="135.43" y="289" width="19.56" height="1" fill="#fcf9f9"/>
<rect x="135.43" y="290" width="19.56" height="1" fill="#fcf3f4"/>
<rect x="135.43" y="291" width="19.56" height="1" fill="#fceaed"/>
<rect x="135.43" y="292" width="19.56" height="1" fill="#fdeff1"/>
<rect x="135.43" y="293" width="19.56" height="1" fill="#fffcfc"/>
<rect x="135.43" y="294" width="19.56" height="1" fill="#fce8eb"/>
<rect x="135.43" y="295" width="19.56" height="1" fill="#fce7ea"/>
<rect x="135.43" y="296" width="19.56" height="1" fill="#fcf0f0"/>
<rect x="135.43" y="297" width="19.56" height="1" fill="#fcf4f4"/>
<rect x="135.43" y="298" width="19.56" height="1" fill="#fcf6f9"/>
<rect x="135.43" y="299" width="19.56" height="1" fill="#fcf8fb"/>
<rect x="135.43" y="300" width="19.56" height="1" fill="#fcfcff"/>
<rect x="135.43" y="301" width="19.56" height="1" fill="#fbfbfe"/>
<rect x="135.43" y="302" width="19.56" height="2" fill="#f9f9fc"/>
<rect x="135.43" y="304" width="19.56" height="1" fill="#fcf3f4"/>
<rect x="135.43" y="305" width="19.56" height="1" fill="#fcf0f0"/>
<rect x="135.43" y="306" width="19.56" height="1" fill="#fceded"/>
<rect x="135.43" y="307" width="19.56" height="1" fill="#fcf0f0"/>
<rect x="135.43" y="308" width="19.56" height="2" fill="#fcfcfc"/>
<rect x="135.43" y="310" width="19.56" height="2" fill="#fffcfc"/>
<rect x="135.43" y="312" width="19.56" height="1" fill="#fdfcfe"/>
<rect x="135.43" y="313" width="19.56" height="1" fill="#fcfafd"/>
<rect x="135.43" y="314" width="19.56" height="1" fill="#fcf6f6"/>
<rect x="135.43" y="315" width="19.56" height="1" fill="#fcf4f4"/>
<rect x="135.43" y="316" width="19.56" height="1" fill="#fcf0f0"/>
<rect x="135.43" y="317" width="19.56" height="1" fill="#faf5f7"/>
<rect x="135.43" y="318" width="19.56" height="1" fill="#faf9fc"/>
<rect x="135.43" y="319" width="19.56" height="1" fill="#fffcfc"/>
<rect x="135.43" y="320" width="19.56" height="1" fill="#fdfbfc"/>
<rect x="135.43" y="321" width="19.56" height="3" fill="#f6f6fc"/>
<rect x="135.43" y="324" width="19.56" height="1" fill="#f8f5fa"/>
<rect x="135.43" y="325" width="19.56" height="1" fill="#cbc7e5"/>
<rect x="135.43" y="326" width="19.56" height="2" fill="#9a9ad6"/>
<rect x="135.43" y="328" width="19.56" height="1" fill="#b0b0df"/>
<rect x="135.43" y="329" width="19.56" height="2" fill="#e4e2f4"/>
<rect x="135.43" y="331" width="19.56" height="1" fill="#dfd4eb"/>
<rect x="135.43" y="332" width="19.56" height="2" fill="#d8bedd"/>
<rect x="135.43" y="334" width="19.56" height="2" fill="#fde1e3"/>
<rect x="135.43" y="336" width="19.56" height="1" fill="#c2b7dc"/>
<rect x="135.43" y="337" width="19.56" height="2" fill="#9b9bd6"/>
<rect x="135.43" y="339" width="19.56" height="1" fill="#8587cb"/>
<rect x="135.43" y="340" width="19.56" height="2" fill="#7b7ec7"/>
<rect x="135.43" y="342" width="19.56" height="1" fill="#e1cbdd"/>
<rect x="135.43" y="343" width="19.56" height="1" fill="#fadee2"/>
<rect x="135.43" y="344" width="19.56" height="1" fill="#fce7ea"/>
<rect x="135.43" y="345" width="19.56" height="2" fill="#fffafc"/>
<rect x="135.43" y="347" width="19.56" height="4" fill="#f2aeb5"/>
<rect x="135.43" y="351" width="19.56" height="1" fill="#ecb1bd"/>
<rect x="135.43" y="352" width="19.56" height="2" fill="#d8bedd"/>
<rect x="135.43" y="354" width="19.56" height="1" fill="#c4b2da"/>
<rect x="135.43" y="355" width="19.56" height="4" fill="#9696d4"/>
<rect x="135.43" y="359" width="19.56" height="1" fill="#abaadd"/>
<rect x="135.43" y="360" width="19.56" height="2" fill="#bfbee7"/>
<rect x="135.43" y="362" width="19.56" height="2" fill="#9999d5"/>
<rect x="135.43" y="364" width="19.56" height="1" fill="#cfbadd"/>
<rect x="135.43" y="365" width="19.56" height="2" fill="#dcc2df"/>
<rect x="135.43" y="367" width="19.56" height="1" fill="#dfcce5"/>
<rect x="135.43" y="368" width="19.56" height="2" fill="#e5e3f4"/>
<rect x="135.43" y="370" width="19.56" height="3" fill="#c0bfe7"/>
<rect x="135.43" y="373" width="19.56" height="2" fill="#9a9ad6"/>
<rect x="135.43" y="375" width="19.56" height="1" fill="#b0afe0"/>
<rect x="135.43" y="376" width="19.56" height="1" fill="#bfbee7"/>
<rect x="135.43" y="377" width="19.56" height="1" fill="#aaabdd"/>
<rect x="135.43" y="378" width="19.56" height="2" fill="#7a7dc6"/>
<rect x="135.43" y="380" width="19.56" height="1" fill="#d0cfeb"/>
<rect x="135.43" y="381" width="19.56" height="1" fill="#e6e4f5"/>
<rect x="135.43" y="382" width="19.56" height="1" fill="#dbdaf1"/>
<rect x="135.43" y="383" width="19.56" height="2" fill="#c3c2e9"/>
<rect x="135.43" y="385" width="19.56" height="1" fill="#d9d7f0"/>
<rect x="135.43" y="386" width="19.56" height="1" fill="#e7e5f5"/>
<rect x="135.43" y="387" width="19.56" height="1" fill="#dcdaf1"/>
<rect x="135.43" y="388" width="19.56" height="2" fill="#797cc6"/>
<rect x="135.43" y="390" width="19.56" height="1" fill="#8082c9"/>
<rect x="135.43" y="391" width="19.56" height="2" fill="#9a9ad6"/>
<rect x="135.43" y="393" width="19.56" height="1" fill="#ada5d8"/>
<rect x="135.43" y="394" width="19.56" height="2" fill="#d9bfdd"/>
<rect x="135.43" y="396" width="19.56" height="1" fill="#dbc1de"/>
<rect x="135.43" y="397" width="19.56" height="3" fill="#ddc3df"/>
<rect x="135.43" y="400" width="19.56" height="1" fill="#d6bede"/>
<rect x="135.43" y="401" width="19.56" height="2" fill="#9797d4"/>
<rect x="135.43" y="403" width="19.56" height="1" fill="#9e97d2"/>
<rect x="135.43" y="404" width="19.56" height="2" fill="#ba98c7"/>
<rect x="135.43" y="406" width="19.56" height="2" fill="#f2aeb5"/>
<rect x="135.43" y="408" width="19.56" height="1" fill="#cda4c1"/>
<rect x="135.43" y="409" width="19.56" height="2" fill="#9696d4"/>
<rect x="135.43" y="411" width="19.56" height="2" fill="#bb99c8"/>
<rect x="135.43" y="413" width="19.56" height="1" fill="#a597cf"/>
<rect x="135.43" y="414" width="19.56" height="1" fill="#9696d4"/>
<rect x="135.43" y="415" width="19.56" height="1" fill="#b199cc"/>
<rect x="135.43" y="416" width="19.56" height="1" fill="#bc9ac8"/>
<rect x="135.43" y="417" width="19.56" height="1" fill="#d3a3c1"/>
<rect x="135.43" y="418" width="19.56" height="2" fill="#f4b0b6"/>
<rect x="135.43" y="420" width="19.56" height="5" fill="#7d80c7"/>
<rect x="135.43" y="425" width="19.56" height="2" fill="#d7bddd"/>
<rect x="135.43" y="427" width="19.56" height="1" fill="#ddbbd5"/>
<rect x="135.43" y="428" width="19.56" height="2" fill="#f4b0b6"/>
<rect x="135.43" y="430" width="19.56" height="1" fill="#d8a8bf"/>
<rect x="135.43" y="431" width="19.56" height="2" fill="#9595d4"/>
<rect x="135.43" y="433" width="19.56" height="1" fill="#a497cf"/>
<rect x="135.43" y="434" width="19.56" height="2" fill="#bb99c7"/>
<rect x="135.43" y="436" width="19.56" height="2" fill="#b997c6"/>
<rect x="135.43" y="438" width="19.56" height="1" fill="#d0b4d7"/>
<rect x="135.43" y="439" width="19.56" height="1" fill="#dac0de"/>
<rect x="135.43" y="440" width="19.56" height="1" fill="#d5c0e0"/>
<rect x="135.43" y="441" width="19.56" height="2" fill="#c3c2e8"/>
<rect x="135.43" y="443" width="19.56" height="1" fill="#aeaedf"/>
<rect x="135.43" y="444" width="19.56" height="4" fill="#7d80c8"/>
<rect x="135.43" y="448" width="19.56" height="1" fill="#9fa0d8"/>
<rect x="135.43" y="449" width="19.56" height="2" fill="#c1c0e7"/>
<rect x="135.43" y="451" width="19.56" height="2" fill="#9898d5"/>
<rect x="135.43" y="453" width="19.56" height="1" fill="#a4a4da"/>
<rect x="135.43" y="454" width="19.56" height="2" fill="#c0bfe7"/>
<rect x="135.43" y="456" width="19.56" height="1" fill="#c3c2e9"/>
<rect x="135.43" y="457" width="19.56" height="1" fill="#c4c3e9"/>
<rect x="135.43" y="458" width="19.56" height="1" fill="#a8a9dc"/>
<rect x="135.43" y="459" width="19.56" height="7" fill="#666cbc"/>
<rect x="135.43" y="466" width="19.56" height="1" fill="#7579c4"/>
<rect x="135.43" y="467" width="19.56" height="1" fill="#7f82c8"/>
<rect x="135.43" y="468" width="19.56" height="1" fill="#9189c8"/>
<rect x="135.43" y="469" width="19.56" height="2" fill="#bb99c8"/>
<rect x="135.43" y="471" width="19.56" height="2" fill="#f1adb5"/>
<rect x="135.43" y="473" width="19.56" height="1" fill="#e5b6c9"/>
<rect x="135.43" y="474" width="19.56" height="2" fill="#d9bfde"/>
<rect x="135.43" y="476" width="19.56" height="1" fill="#e8d9eb"/>
<rect x="154.49" y="240" width="19.56" height="1" fill="#c4c4e8"/>
<rect x="154.49" y="241" width="19.56" height="1" fill="#acacdf"/>
<rect x="154.49" y="242" width="19.56" height="1" fill="#bdbde7"/>
<rect x="154.49" y="243" width="19.56" height="1" fill="#c1c1e9"/>
<rect x="154.49" y="244" width="19.56" height="1" fill="#c3c3ea"/>
<rect x="154.49" y="245" width="19.56" height="1" fill="#6d73c0"/>
<rect x="154.49" y="246" width="19.56" height="1" fill="#767bc5"/>
<rect x="154.49" y="247" width="19.56" height="1" fill="#c0c0e7"/>
<rect x="154.49" y="248" width="19.56" height="1" fill="#9c9cd7"/>
<rect x="154.49" y="249" width="19.56" height="1" fill="#8a8acf"/>
<rect x="154.49" y="250" width="19.56" height="1" fill="#a4a4dc"/>
<rect x="154.49" y="251" width="19.56" height="1" fill="#aeaee1"/>
<rect x="154.49" y="252" width="19.56" height="1" fill="#b3b3e3"/>
<rect x="154.49" y="253" width="19.56" height="1" fill="#b4b4e4"/>
<rect x="154.49" y="254" width="19.56" height="1" fill="#989ad6"/>
<rect x="154.49" y="255" width="19.56" height="1" fill="#8a8dcf"/>
<rect x="154.49" y="256" width="19.56" height="1" fill="#a6a7dc"/>
<rect x="154.49" y="257" width="19.56" height="1" fill="#b6b6e3"/>
<rect x="154.49" y="258" width="19.56" height="2" fill="#b1b1e1"/>
<rect x="154.49" y="260" width="19.56" height="2" fill="#cccced"/>
<rect x="154.49" y="262" width="19.56" height="1" fill="#dedef5"/>
<rect x="154.49" y="263" width="19.56" height="1" fill="#e1e1f6"/>
<rect x="154.49" y="264" width="19.56" height="1" fill="#a2a2db"/>
<rect x="154.49" y="265" width="19.56" height="1" fill="#b1b1e1"/>
<rect x="154.49" y="266" width="19.56" height="1" fill="#c3c3e8"/>
<rect x="154.49" y="267" width="19.56" height="1" fill="#d5d5f0"/>
<rect x="154.49" y="268" width="19.56" height="1" fill="#dadaf2"/>
<rect x="154.49" y="269" width="19.56" height="1" fill="#e4e4f6"/>
<rect x="154.49" y="270" width="19.56" height="1" fill="#c5c5ea"/>
<rect x="154.49" y="271" width="19.56" height="1" fill="#b0b0e2"/>
<rect x="154.49" y="272" width="19.56" height="1" fill="#9696d5"/>
<rect x="154.49" y="273" width="19.56" height="1" fill="#b2b2e1"/>
<rect x="154.49" y="274" width="19.56" height="1" fill="#d5d5f0"/>
<rect x="154.49" y="275" width="19.56" height="1" fill="#cbcbec"/>
<rect x="154.49" y="276" width="19.56" height="1" fill="#c0c0e7"/>
<rect x="154.49" y="277" width="19.56" height="2" fill="#a9a9de"/>
<rect x="154.49" y="279" width="19.56" height="1" fill="#bdbde7"/>
<rect x="154.49" y="280" width="19.56" height="1" fill="#9696d5"/>
<rect x="154.49" y="281" width="19.56" height="2" fill="#9090d2"/>
<rect x="154.49" y="283" width="19.56" height="1" fill="#a9a9de"/>
<rect x="154.49" y="284" width="19.56" height="1" fill="#bdbde7"/>
<rect x="154.49" y="285" width="19.56" height="1" fill="#c6c6eb"/>
<rect x="154.49" y="286" width="19.56" height="1" fill="#d2d2f0"/>
<rect x="154.49" y="287" width="19.56" height="1" fill="#c6c6eb"/>
<rect x="154.49" y="288" width="19.56" height="1" fill="#bdbde7"/>
<rect x="154.49" y="289" width="19.56" height="1" fill="#c3c3ea"/>
<rect x="154.49" y="290" width="19.56" height="1" fill="#c2c2e9"/>
<rect x="154.49" y="291" width="19.56" height="1" fill="#c0c0e7"/>
<rect x="154.49" y="292" width="19.56" height="1" fill="#bfbfe7"/>
<rect x="154.49" y="293" width="19.56" height="1" fill="#bdbde7"/>
<rect x="154.49" y="294" width="19.56" height="1" fill="#e5e5f5"/>
<rect x="154.49" y="295" width="19.56" height="1" fill="#e7e7f6"/>
<rect x="154.49" y="296" width="19.56" height="1" fill="#d8d8f2"/>
<rect x="154.49" y="297" width="19.56" height="1" fill="#cfcfef"/>
<rect x="154.49" y="298" width="19.56" height="1" fill="#c6c6ea"/>
<rect x="154.49" y="299" width="19.56" height="1" fill="#c2c2e8"/>
<rect x="154.49" y="300" width="19.56" height="1" fill="#b7b7e4"/>
<rect x="154.49" y="301" width="19.56" height="1" fill="#b5b5e3"/>
<rect x="154.49" y="302" width="19.56" height="2" fill="#aeaee1"/>
<rect x="154.49" y="304" width="19.56" height="1" fill="#cdcdec"/>
<rect x="154.49" y="305" width="19.56" height="1" fill="#c4c4ea"/>
<rect x="154.49" y="306" width="19.56" height="1" fill="#babae7"/>
<rect x="154.49" y="307" width="19.56" height="1" fill="#b8b8e6"/>
<rect x="154.49" y="308" width="19.56" height="2" fill="#b1b1e1"/>
<rect x="154.49" y="310" width="19.56" height="2" fill="#bdbde7"/>
<rect x="154.49" y="312" width="19.56" height="1" fill="#b8b8e5"/>
<rect x="154.49" y="313" width="19.56" height="1" fill="#bcbce6"/>
<rect x="154.49" y="314" width="19.56" height="1" fill="#c9c9ed"/>
<rect x="154.49" y="315" width="19.56" height="1" fill="#ceceee"/>
<rect x="154.49" y="316" width="19.56" height="1" fill="#d5d5f0"/>
<rect x="154.49" y="317" width="19.56" height="1" fill="#bdbde6"/>
<rect x="154.49" y="318" width="19.56" height="1" fill="#acacdf"/>
<rect x="154.49" y="319" width="19.56" height="1" fill="#babae7"/>
<rect x="154.49" y="320" width="19.56" height="1" fill="#b6b6e5"/>
<rect x="154.49" y="321" width="19.56" height="2" fill="#a8a8de"/>
<rect x="154.49" y="323" width="19.56" height="1" fill="#a5a5de"/>
<rect x="154.49" y="324" width="19.56" height="1" fill="#b0b0e2"/>
<rect x="154.49" y="325" width="19.56" height="1" fill="#989bd3"/>
<rect x="154.49" y="326" width="19.56" height="3" fill="#6167ba"/>
<rect x="154.49" y="329" width="19.56" height="2" fill="#6066ba"/>
<rect x="154.49" y="331" width="19.56" height="1" fill="#857bbf"/>
<rect x="154.49" y="332" width="19.56" height="2" fill="#bb99c8"/>
<rect x="154.49" y="334" width="19.56" height="2" fill="#d8bedd"/>
<rect x="154.49" y="336" width="19.56" height="1" fill="#a29ad0"/>
<rect x="154.49" y="337" width="19.56" height="2" fill="#7e81c8"/>
<rect x="154.49" y="339" width="19.56" height="1" fill="#6a6fbe"/>
<rect x="154.49" y="340" width="19.56" height="2" fill="#6167ba"/>
<rect x="154.49" y="342" width="19.56" height="1" fill="#c2aed7"/>
<rect x="154.49" y="343" width="19.56" height="1" fill="#dac0de"/>
<rect x="154.49" y="344" width="19.56" height="1" fill="#d2bfe0"/>
<rect x="154.49" y="345" width="19.56" height="2" fill="#bfbee7"/>
<rect x="154.49" y="347" width="19.56" height="4" fill="#b997c6"/>
<rect x="154.49" y="351" width="19.56" height="1" fill="#b297c9"/>
<rect x="154.49" y="352" width="19.56" height="2" fill="#9898d5"/>
<rect x="154.49" y="354" width="19.56" height="1" fill="#9091d1"/>
<rect x="154.49" y="355" width="19.56" height="4" fill="#7f82c8"/>
<rect x="154.49" y="359" width="19.56" height="1" fill="#8c8dcf"/>
<rect x="154.49" y="360" width="19.56" height="2" fill="#9999d6"/>
<rect x="154.49" y="362" width="19.56" height="2" fill="#656bbc"/>
<rect x="154.49" y="364" width="19.56" height="1" fill="#a98fc5"/>
<rect x="154.49" y="365" width="19.56" height="2" fill="#ba98c7"/>
<rect x="154.49" y="367" width="19.56" height="1" fill="#bca3d0"/>
<rect x="154.49" y="368" width="19.56" height="2" fill="#c0bfe7"/>
<rect x="154.49" y="370" width="19.56" height="3" fill="#6066ba"/>
<rect x="154.49" y="373" width="19.56" height="4" fill="#9797d4"/>
<rect x="154.49" y="377" width="19.56" height="1" fill="#8f8fd0"/>
<rect x="154.49" y="378" width="19.56" height="2" fill="#7c7fc7"/>
<rect x="154.49" y="380" width="19.56" height="1" fill="#b4b4e1"/>
<rect x="154.49" y="381" width="19.56" height="1" fill="#c2c1e8"/>
<rect x="154.49" y="382" width="19.56" height="1" fill="#aeaedf"/>
<rect x="154.49" y="383" width="19.56" height="2" fill="#7f82c8"/>
<rect x="154.49" y="385" width="19.56" height="1" fill="#a7a7db"/>
<rect x="154.49" y="386" width="19.56" height="1" fill="#c1c0e8"/>
<rect x="154.49" y="387" width="19.56" height="1" fill="#b8b8e3"/>
<rect x="154.49" y="388" width="19.56" height="2" fill="#646abc"/>
<rect x="154.49" y="390" width="19.56" height="3" fill="#656bbc"/>
<rect x="154.49" y="393" width="19.56" height="1" fill="#7f79bf"/>
<rect x="154.49" y="394" width="19.56" height="2" fill="#ba98c7"/>
<rect x="154.49" y="396" width="19.56" height="1" fill="#bfaed8"/>
<rect x="154.49" y="397" width="19.56" height="3" fill="#c5c4e9"/>
<rect x="154.49" y="400" width="19.56" height="1" fill="#bbbbe5"/>
<rect x="154.49" y="401" width="19.56" height="2" fill="#6268bb"/>
<rect x="154.49" y="403" width="19.56" height="1" fill="#676cbd"/>
<rect x="154.49" y="404" width="19.56" height="2" fill="#7a7dc6"/>
<rect x="154.49" y="406" width="19.56" height="2" fill="#b997c7"/>
<rect x="154.49" y="408" width="19.56" height="1" fill="#a18ec7"/>
<rect x="154.49" y="409" width="19.56" height="2" fill="#7d80c7"/>
<rect x="154.49" y="411" width="19.56" height="2" fill="#bc9ac8"/>
<rect x="154.49" y="413" width="19.56" height="1" fill="#978bc8"/>
<rect x="154.49" y="414" width="19.56" height="1" fill="#7d80c8"/>
<rect x="154.49" y="415" width="19.56" height="1" fill="#937ec0"/>
<rect x="154.49" y="416" width="19.56" height="1" fill="#9d7dbd"/>
<rect x="154.49" y="417" width="19.56" height="1" fill="#a888c1"/>
<rect x="154.49" y="418" width="19.56" height="2" fill="#ba98c7"/>
<rect x="154.49" y="420" width="19.56" height="5" fill="#4c58b2"/>
<rect x="154.49" y="425" width="19.56" height="2" fill="#9696d4"/>
<rect x="154.49" y="427" width="19.56" height="1" fill="#a49ed6"/>
<rect x="154.49" y="428" width="19.56" height="2" fill="#dbc1de"/>
<rect x="154.49" y="430" width="19.56" height="1" fill="#b7a7d4"/>
<rect x="154.49" y="431" width="19.56" height="2" fill="#656bbc"/>
<rect x="154.49" y="433" width="19.56" height="1" fill="#6d72c0"/>
<rect x="154.49" y="434" width="19.56" height="1" fill="#797cc6"/>
<rect x="154.49" y="435" width="19.56" height="1" fill="#7d7cc5"/>
<rect x="154.49" y="436" width="19.56" height="2" fill="#9d7dbe"/>
<rect x="154.49" y="438" width="19.56" height="1" fill="#b190c4"/>
<rect x="154.49" y="439" width="19.56" height="1" fill="#b997c7"/>
<rect x="154.49" y="440" width="19.56" height="1" fill="#bba0cd"/>
<rect x="154.49" y="441" width="19.56" height="2" fill="#c3c2e8"/>
<rect x="154.49" y="443" width="19.56" height="1" fill="#a6a7db"/>
<rect x="154.49" y="444" width="19.56" height="4" fill="#6268ba"/>
<rect x="154.49" y="448" width="19.56" height="1" fill="#7d80c8"/>
<rect x="154.49" y="449" width="19.56" height="2" fill="#9999d6"/>
<rect x="154.49" y="451" width="19.56" height="2" fill="#9c7cbd"/>
<rect x="154.49" y="453" width="19.56" height="1" fill="#9c85c5"/>
<rect x="154.49" y="454" width="19.56" height="2" fill="#9b9bd6"/>
<rect x="154.49" y="456" width="19.56" height="1" fill="#bcbce6"/>
<rect x="154.49" y="457" width="19.56" height="1" fill="#c5c4e9"/>
<rect x="154.49" y="458" width="19.56" height="1" fill="#9fa2d8"/>
<rect x="154.49" y="459" width="19.56" height="7" fill="#4854b0"/>
<rect x="154.49" y="466" width="19.56" height="1" fill="#575fb6"/>
<rect x="154.49" y="467" width="19.56" height="1" fill="#6167ba"/>
<rect x="154.49" y="468" width="19.56" height="1" fill="#726dbb"/>
<rect x="154.49" y="469" width="19.56" height="2" fill="#9a7abc"/>
<rect x="154.49" y="471" width="19.56" height="2" fill="#f4b0b6"/>
<rect x="154.49" y="473" width="19.56" height="1" fill="#f09aa2"/>
<rect x="154.49" y="474" width="19.56" height="2" fill="#ec858d"/>
<rect x="154.49" y="476" width="19.56" height="1" fill="#f4b6bb"/>
<rect x="173.54" y="240" width="19.06" height="1" fill="#d3d3ee"/>
<rect x="173.54" y="241" width="19.06" height="1" fill="#c1c1e7"/>
<rect x="173.54" y="242" width="19.06" height="1" fill="#cccced"/>
<rect x="173.54" y="243" width="19.06" height="1" fill="#ceceed"/>
<rect x="173.54" y="244" width="19.06" height="1" fill="#cfcfed"/>
<rect x="173.54" y="245" width="19.06" height="1" fill="#8a8dd2"/>
<rect x="173.54" y="246" width="19.06" height="1" fill="#9294d5"/>
<rect x="173.54" y="247" width="19.06" height="1" fill="#cccced"/>
<rect x="173.54" y="248" width="19.06" height="1" fill="#b0b0e1"/>
<rect x="173.54" y="249" width="19.06" height="1" fill="#a2a2db"/>
<rect x="173.54" y="250" width="19.06" height="1" fill="#b4b4e4"/>
<rect x="173.54" y="251" width="19.06" height="1" fill="#babae7"/>
<rect x="173.54" y="252" width="19.06" height="1" fill="#c1c1e9"/>
<rect x="173.54" y="253" width="19.06" height="1" fill="#c3c3ea"/>
<rect x="173.54" y="254" width="19.06" height="1" fill="#afafe2"/>
<rect x="173.54" y="255" width="19.06" height="1" fill="#a5a5de"/>
<rect x="173.54" y="256" width="19.06" height="1" fill="#b8b8e6"/>
<rect x="173.54" y="257" width="19.06" height="1" fill="#c2c2e9"/>
<rect x="173.54" y="258" width="19.06" height="2" fill="#bdbde7"/>
<rect x="173.54" y="260" width="19.06" height="2" fill="#d8d8f3"/>
<rect x="173.54" y="262" width="19.06" height="1" fill="#ededf8"/>
<rect x="173.54" y="263" width="19.06" height="1" fill="#f0f0f9"/>
<rect x="173.54" y="264" width="19.06" height="1" fill="#b9b9e6"/>
<rect x="173.54" y="265" width="19.06" height="1" fill="#c2c2e9"/>
<rect x="173.54" y="266" width="19.06" height="1" fill="#cfcfee"/>
<rect x="173.54" y="267" width="19.06" height="1" fill="#e1e1f6"/>
<rect x="173.54" y="268" width="19.06" height="1" fill="#e7e7f7"/>
<rect x="173.54" y="269" width="19.06" height="1" fill="#f3f3f9"/>
<rect x="173.54" y="270" width="19.06" height="1" fill="#d2d2ef"/>
<rect x="173.54" y="271" width="19.06" height="1" fill="#bcbce8"/>
<rect x="173.54" y="272" width="19.06" height="1" fill="#a2a2db"/>
<rect x="173.54" y="273" width="19.06" height="1" fill="#bebee6"/>
<rect x="173.54" y="274" width="19.06" height="1" fill="#e1e1f3"/>
<rect x="173.54" y="275" width="19.06" height="1" fill="#d7d7f0"/>
<rect x="173.54" y="276" width="19.06" height="1" fill="#cccced"/>
<rect x="173.54" y="277" width="19.06" height="1" fill="#bebee8"/>
<rect x="173.54" y="278" width="19.06" height="1" fill="#bfbfe9"/>
<rect x="173.54" y="279" width="19.06" height="1" fill="#cccced"/>
<rect x="173.54" y="280" width="19.06" height="1" fill="#adade0"/>
<rect x="173.54" y="281" width="19.06" height="2" fill="#a8a8de"/>
<rect x="173.54" y="283" width="19.06" height="1" fill="#babae6"/>
<rect x="173.54" y="284" width="19.06" height="1" fill="#c9c9ed"/>
<rect x="173.54" y="285" width="19.06" height="1" fill="#d2d2f0"/>
<rect x="173.54" y="286" width="19.06" height="1" fill="#dedef3"/>
<rect x="173.54" y="287" width="19.06" height="1" fill="#d2d2f0"/>
<rect x="173.54" y="288" width="19.06" height="1" fill="#c9c9ed"/>
<rect x="173.54" y="289" width="19.06" height="1" fill="#cfcff0"/>
<rect x="173.54" y="290" width="19.06" height="1" fill="#ceceef"/>
<rect x="173.54" y="291" width="19.06" height="1" fill="#cccced"/>
<rect x="173.54" y="292" width="19.06" height="1" fill="#cbcbed"/>
<rect x="173.54" y="293" width="19.06" height="1" fill="#c9c9ed"/>
<rect x="173.54" y="294" width="19.06" height="1" fill="#f1f1fb"/>
<rect x="173.54" y="295" width="19.06" height="1" fill="#f3f3fc"/>
<rect x="173.54" y="296" width="19.06" height="1" fill="#e4e4f6"/>
<rect x="173.54" y="297" width="19.06" height="1" fill="#dbdbf2"/>
<rect x="173.54" y="298" width="19.06" height="1" fill="#d2d2f0"/>
<rect x="173.54" y="299" width="19.06" height="1" fill="#ceceee"/>
<rect x="173.54" y="300" width="19.06" height="1" fill="#c3c3ea"/>
<rect x="173.54" y="301" width="19.06" height="1" fill="#c1c1e9"/>
<rect x="173.54" y="302" width="19.06" height="2" fill="#babae7"/>
<rect x="173.54" y="304" width="19.06" height="1" fill="#d9d9f2"/>
<rect x="173.54" y="305" width="19.06" height="1" fill="#d0d0ee"/>
<rect x="173.54" y="306" width="19.06" height="1" fill="#c6c6ea"/>
<rect x="173.54" y="307" width="19.06" height="1" fill="#c4c4e9"/>
<rect x="173.54" y="308" width="19.06" height="2" fill="#bdbde7"/>
<rect x="173.54" y="310" width="19.06" height="2" fill="#c9c9ed"/>
<rect x="173.54" y="312" width="19.06" height="1" fill="#c4c4eb"/>
<rect x="173.54" y="313" width="19.06" height="1" fill="#c9c9ec"/>
<rect x="173.54" y="314" width="19.06" height="1" fill="#d8d8f0"/>
<rect x="173.54" y="315" width="19.06" height="1" fill="#dcdcf1"/>
<rect x="173.54" y="316" width="19.06" height="1" fill="#e1e1f3"/>
<rect x="173.54" y="317" width="19.06" height="1" fill="#c9c9eb"/>
<rect x="173.54" y="318" width="19.06" height="1" fill="#b8b8e5"/>
<rect x="173.54" y="319" width="19.06" height="1" fill="#c6c6ea"/>
<rect x="173.54" y="320" width="19.06" height="1" fill="#c2c2e9"/>
<rect x="173.54" y="321" width="19.06" height="2" fill="#b4b4e4"/>
<rect x="173.54" y="323" width="19.06" height="1" fill="#b1b1e1"/>
<rect x="173.54" y="324" width="19.06" height="1" fill="#bcbce6"/>
<rect x="173.54" y="325" width="19.06" height="1" fill="#aaacdc"/>
<rect x="173.54" y="326" width="19.06" height="2" fill="#7a7dc6"/>
<rect x="173.54" y="328" width="19.06" height="1" fill="#7377c3"/>
<rect x="173.54" y="329" width="19.06" height="2" fill="#646abc"/>
<rect x="173.54" y="331" width="19.06" height="1" fill="#797dc6"/>
<rect x="173.54" y="332" width="19.06" height="2" fill="#9999d5"/>
<rect x="173.54" y="334" width="19.06" height="2" fill="#c5c4e9"/>
<rect x="173.54" y="336" width="19.06" height="1" fill="#9899d4"/>
<rect x="173.54" y="337" width="19.06" height="2" fill="#7a7dc6"/>
<rect x="173.54" y="339" width="19.06" height="1" fill="#696ebe"/>
<rect x="173.54" y="340" width="19.06" height="2" fill="#6268ba"/>
<rect x="173.54" y="342" width="19.06" height="1" fill="#acadde"/>
<rect x="173.54" y="343" width="19.06" height="1" fill="#bfbee7"/>
<rect x="173.54" y="344" width="19.06" height="1" fill="#a4a5da"/>
<rect x="173.54" y="345" width="19.06" height="2" fill="#666cbc"/>
<rect x="173.54" y="347" width="19.06" height="4" fill="#bfbee7"/>
<rect x="173.54" y="351" width="19.06" height="1" fill="#b8b7e3"/>
<rect x="173.54" y="352" width="19.06" height="2" fill="#9a9ad6"/>
<rect x="173.54" y="354" width="19.06" height="1" fill="#9192d2"/>
<rect x="173.54" y="355" width="19.06" height="7" fill="#7c7fc7"/>
<rect x="173.54" y="362" width="19.06" height="2" fill="#6167ba"/>
<rect x="173.54" y="364" width="19.06" height="1" fill="#8c8dcf"/>
<rect x="173.54" y="365" width="19.06" height="2" fill="#9797d5"/>
<rect x="173.54" y="367" width="19.06" height="1" fill="#a4a4da"/>
<rect x="173.54" y="368" width="19.06" height="2" fill="#c2c1e8"/>
<rect x="173.54" y="370" width="19.06" height="3" fill="#6167ba"/>
<rect x="173.54" y="373" width="19.06" height="2" fill="#7c7fc7"/>
<rect x="173.54" y="375" width="19.06" height="1" fill="#8b8ccf"/>
<rect x="173.54" y="376" width="19.06" height="1" fill="#9595d4"/>
<rect x="173.54" y="377" width="19.06" height="1" fill="#9797d4"/>
<rect x="173.54" y="378" width="19.06" height="2" fill="#9b9bd6"/>
<rect x="173.54" y="380" width="19.06" height="1" fill="#bcbbe5"/>
<rect x="173.54" y="381" width="19.06" height="1" fill="#c4c3e9"/>
<rect x="173.54" y="382" width="19.06" height="1" fill="#a7a8db"/>
<rect x="173.54" y="383" width="19.06" height="2" fill="#6268bb"/>
<rect x="173.54" y="385" width="19.06" height="1" fill="#8284ca"/>
<rect x="173.54" y="386" width="19.06" height="1" fill="#9797d5"/>
<rect x="173.54" y="387" width="19.06" height="1" fill="#9495d3"/>
<rect x="173.54" y="388" width="19.06" height="2" fill="#7b7ec6"/>
<rect x="173.54" y="390" width="19.06" height="1" fill="#767ac4"/>
<rect x="173.54" y="391" width="19.06" height="2" fill="#646abc"/>
<rect x="173.54" y="393" width="19.06" height="1" fill="#7377c3"/>
<rect x="173.54" y="394" width="19.06" height="2" fill="#9696d4"/>
<rect x="173.54" y="396" width="19.06" height="1" fill="#acacde"/>
<rect x="173.54" y="397" width="19.06" height="3" fill="#c2c1e8"/>
<rect x="173.54" y="400" width="19.06" height="1" fill="#bbbae5"/>
<rect x="173.54" y="401" width="19.06" height="2" fill="#797cc6"/>
<rect x="173.54" y="403" width="19.06" height="1" fill="#7f82c9"/>
<rect x="173.54" y="404" width="19.06" height="2" fill="#9898d5"/>
<rect x="173.54" y="406" width="19.06" height="2" fill="#9595d4"/>
<rect x="173.54" y="408" width="19.06" height="1" fill="#9696d4"/>
<rect x="173.54" y="409" width="19.06" height="2" fill="#9898d5"/>
<rect x="173.54" y="411" width="19.06" height="2" fill="#9797d5"/>
<rect x="173.54" y="413" width="19.06" height="1" fill="#8789cd"/>
<rect x="173.54" y="414" width="19.06" height="1" fill="#7d80c7"/>
<rect x="173.54" y="415" width="19.06" height="1" fill="#6c71bf"/>
<rect x="173.54" y="416" width="19.06" height="1" fill="#646abc"/>
<rect x="173.54" y="417" width="19.06" height="1" fill="#7a7dc6"/>
<rect x="173.54" y="418" width="19.06" height="2" fill="#9a9ad6"/>
<rect x="173.54" y="420" width="19.06" height="5" fill="#646abc"/>
<rect x="173.54" y="425" width="19.06" height="2" fill="#9797d5"/>
<rect x="173.54" y="427" width="19.06" height="1" fill="#a0a0d9"/>
<rect x="173.54" y="428" width="19.06" height="2" fill="#c3c2e8"/>
<rect x="173.54" y="430" width="19.06" height="1" fill="#a6a8db"/>
<rect x="173.54" y="431" width="19.06" height="2" fill="#646abc"/>
<rect x="173.54" y="433" width="19.06" height="1" fill="#7a7dc6"/>
<rect x="173.54" y="434" width="19.06" height="2" fill="#9999d6"/>
<rect x="173.54" y="436" width="19.06" height="2" fill="#9696d4"/>
<rect x="173.54" y="438" width="19.06" height="1" fill="#b5b4e2"/>
<rect x="173.54" y="439" width="19.06" height="1" fill="#c2c1e8"/>
<rect x="173.54" y="440" width="19.06" height="1" fill="#c1c0e8"/>
<rect x="173.54" y="441" width="19.06" height="2" fill="#bfbee7"/>
<rect x="173.54" y="443" width="19.06" height="1" fill="#abacdd"/>
<rect x="173.54" y="444" width="19.06" height="4" fill="#7c7fc7"/>
<rect x="173.54" y="448" width="19.06" height="1" fill="#a0a1d8"/>
<rect x="173.54" y="449" width="19.06" height="2" fill="#c3c2e9"/>
<rect x="173.54" y="451" width="19.06" height="2" fill="#7c7fc7"/>
<rect x="173.54" y="453" width="19.06" height="1" fill="#8587cc"/>
<rect x="173.54" y="454" width="19.06" height="2" fill="#9b9bd6"/>
<rect x="173.54" y="456" width="19.06" height="1" fill="#bab9e4"/>
<rect x="173.54" y="457" width="19.06" height="1" fill="#c2c1e8"/>
<rect x="173.54" y="458" width="19.06" height="1" fill="#9ea1d7"/>
<rect x="173.54" y="459" width="19.06" height="7" fill="#4a56b1"/>
<rect x="173.54" y="466" width="19.06" height="1" fill="#7a7fc7"/>
<rect x="173.54" y="467" width="19.06" height="1" fill="#9a9ad6"/>
<rect x="173.54" y="468" width="19.06" height="1" fill="#8386cb"/>
<rect x="173.54" y="469" width="19.06" height="2" fill="#4c58b2"/>
<rect x="173.54" y="471" width="19.06" height="2" fill="#c2c1e8"/>
<rect x="173.54" y="473" width="19.06" height="1" fill="#cfc1e3"/>
<rect x="173.54" y="474" width="19.06" height="2" fill="#dcc2df"/>
<rect x="173.54" y="476" width="19.06" height="1" fill="#eadaec"/>
</g>
<rect x="58.2" y="476.4" width="135.39999999999998" height="1" fill="#fff"/>
<line x1="68.7" y1="476.4" x2="68.7" y2="478.4" stroke="#666" stroke-width="0.6"/>
<text transform="translate(71.9 481) rotate(-90) scale(1.087 1)" font-size="8.05" font-weight="normal" text-anchor="end" fill="#111" stroke="#111" stroke-width="0.42">cg23141183</text>
<line x1="87.8" y1="476.4" x2="87.8" y2="478.4" stroke="#666" stroke-width="0.6"/>
<text transform="translate(91.0 481) rotate(-90) scale(1.087 1)" font-size="8.05" font-weight="normal" text-anchor="end" fill="#111" stroke="#111" stroke-width="0.42">cg21453758</text>
<line x1="106.8" y1="476.4" x2="106.8" y2="478.4" stroke="#666" stroke-width="0.6"/>
<text transform="translate(110.0 481) rotate(-90) scale(1.087 1)" font-size="8.05" font-weight="normal" text-anchor="end" fill="#111" stroke="#111" stroke-width="0.42">cg18345635</text>
<line x1="125.9" y1="476.4" x2="125.9" y2="478.4" stroke="#666" stroke-width="0.6"/>
<text transform="translate(129.1 481) rotate(-90) scale(1.087 1)" font-size="8.05" font-weight="normal" text-anchor="end" fill="#111" stroke="#111" stroke-width="0.42">cg04184297</text>
<line x1="145.0" y1="476.4" x2="145.0" y2="478.4" stroke="#666" stroke-width="0.6"/>
<text transform="translate(148.2 481) rotate(-90) scale(1.087 1)" font-size="8.05" font-weight="normal" text-anchor="end" fill="#111" stroke="#111" stroke-width="0.42">cg14417329</text>
<line x1="164.0" y1="476.4" x2="164.0" y2="478.4" stroke="#666" stroke-width="0.6"/>
<text transform="translate(167.2 481) rotate(-90) scale(1.087 1)" font-size="8.05" font-weight="normal" text-anchor="end" fill="#111" stroke="#111" stroke-width="0.42">cg08296680</text>
<line x1="183.1" y1="476.4" x2="183.1" y2="478.4" stroke="#666" stroke-width="0.6"/>
<text transform="translate(186.3 481) rotate(-90) scale(1.087 1)" font-size="8.05" font-weight="normal" text-anchor="end" fill="#111" stroke="#111" stroke-width="0.42">cg14654468</text>
<text transform="translate(51.4 283.6) rotate(-90) scale(1.0 1)" font-size="11.5" font-weight="bold" text-anchor="middle" fill="#111" stroke="#111" stroke-width="0.22">Normal kidney</text>
<text transform="translate(51.5 400.9) rotate(-90) scale(1.0 1)" font-size="11.25" font-weight="bold" text-anchor="middle" fill="#111" stroke="#111" stroke-width="0.22">ccRCC</text>
</g>
<g id="gene">
<line x1="264.5" y1="230" x2="303" y2="230" stroke="#111" stroke-width="1.2" stroke-dasharray="2.4 1.6"/>
<line x1="308" y1="230" x2="494.5" y2="230" stroke="#111" stroke-width="1.1"/>
<line x1="494.5" y1="230" x2="502.5" y2="230" stroke="#111" stroke-width="1.1" stroke-dasharray="2 1.4"/>
<rect x="303" y="225.7" width="5.6" height="8.8" fill="#fff" stroke="#111" stroke-width="1.2" rx="1"/>
<rect x="268.6" y="224" width="40.6" height="12.3" fill="none" stroke="#c8474d" stroke-width="1" rx="1"/>
<line x1="269.3" y1="236.3" x2="269.3" y2="246.5" stroke="#d0545a" stroke-width="0.7"/>
<line x1="308.7" y1="230.5" x2="470" y2="245" stroke="#d88" stroke-width="0.6"/>
<line x1="331.5" y1="234.6" x2="336.3" y2="225.4" stroke="#111" stroke-width="0.9"/>
<line x1="334.1" y1="234.6" x2="338.9" y2="225.4" stroke="#111" stroke-width="0.9"/>
<rect x="359.2" y="225.4" width="11.2" height="9.2" fill="#111"/>
<rect x="388" y="225.4" width="7.2" height="9.2" fill="#111"/>
<rect x="404.2" y="225.4" width="28.8" height="9.2" fill="#111"/>
<rect x="462" y="225.4" width="12.2" height="9.2" fill="#111"/>
<rect x="474.2" y="225.9" width="17.5" height="8.2" fill="#fff" stroke="#111" stroke-width="1"/>
<text transform="translate(306 221.7) scale(1.22 1)" font-size="7.1" font-weight="bold" text-anchor="middle" fill="#111" stroke="#111" stroke-width="0.22">1</text>
<text transform="translate(364.5 221.7) scale(1.22 1)" font-size="7.1" font-weight="bold" text-anchor="middle" fill="#111" stroke="#111" stroke-width="0.22">2</text>
<text transform="translate(391 221.7) scale(1.22 1)" font-size="7.1" font-weight="bold" text-anchor="middle" fill="#111" stroke="#111" stroke-width="0.22">3</text>
<text transform="translate(418.6 221.7) scale(1.22 1)" font-size="7.1" font-weight="bold" text-anchor="middle" fill="#111" stroke="#111" stroke-width="0.22">4</text>
<text transform="translate(477.6 221.7) scale(1.22 1)" font-size="7.1" font-weight="bold" text-anchor="middle" fill="#111" stroke="#111" stroke-width="0.22">5</text>
<text transform="translate(270.3 252.5) scale(1.0 1)" font-size="6.9" font-weight="bold" text-anchor="start" fill="#111" stroke="#111" stroke-width="0.22">-964</text>
<text transform="translate(460.3 252.2) scale(1.19 1)" font-size="5.8" font-weight="bold" text-anchor="middle" fill="#111" stroke="#111" stroke-width="0.22">+1</text>
<text transform="translate(474.3 252.2) scale(1.19 1)" font-size="5.8" font-weight="bold" text-anchor="middle" fill="#111" stroke="#111" stroke-width="0.22">+56</text>
<line x1="270.5" y1="258.7" x2="457.3" y2="258.7" stroke="#111" stroke-width="1.2" stroke-dasharray="2.4 1.6"/>
<rect x="457.3" y="254" width="24.5" height="9.4" fill="#fff" stroke="#111" stroke-width="0.9"/>
<line x1="481.8" y1="258.7" x2="496.3" y2="258.7" stroke="#111" stroke-width="1.1"/>
</g>
<g id="linechart">
<line x1="269.5" y1="268" x2="269.5" y2="447.3" stroke="#444" stroke-width="0.9"/>
<line x1="269.5" y1="447.3" x2="476" y2="447.3" stroke="#444" stroke-width="0.9"/>
<line x1="266.0" y1="440.7" x2="269.5" y2="440.7" stroke="#444" stroke-width="0.8"/>
<text transform="translate(264.1 444.2) scale(1.03 1)" font-size="9.32" font-weight="bold" text-anchor="end" fill="#111" stroke="#111" stroke-width="0.22">−0.5</text>
<line x1="266.0" y1="423.7" x2="269.5" y2="423.7" stroke="#444" stroke-width="0.8"/>
<text transform="translate(264.1 427.2) scale(1.03 1)" font-size="9.32" font-weight="bold" text-anchor="end" fill="#111" stroke="#111" stroke-width="0.22">−0.4</text>
<line x1="266.0" y1="406.7" x2="269.5" y2="406.7" stroke="#444" stroke-width="0.8"/>
<text transform="translate(264.1 410.2) scale(1.03 1)" font-size="9.32" font-weight="bold" text-anchor="end" fill="#111" stroke="#111" stroke-width="0.22">−0.3</text>
<line x1="266.0" y1="389.8" x2="269.5" y2="389.8" stroke="#444" stroke-width="0.8"/>
<text transform="translate(264.1 393.3) scale(1.03 1)" font-size="9.32" font-weight="bold" text-anchor="end" fill="#111" stroke="#111" stroke-width="0.22">−0.2</text>
<line x1="266.0" y1="372.8" x2="269.5" y2="372.8" stroke="#444" stroke-width="0.8"/>
<text transform="translate(264.1 376.3) scale(1.03 1)" font-size="9.32" font-weight="bold" text-anchor="end" fill="#111" stroke="#111" stroke-width="0.22">−0.1</text>
<line x1="266.0" y1="355.8" x2="269.5" y2="355.8" stroke="#444" stroke-width="0.8"/>
<text transform="translate(259.6 359.3) scale(1.03 1)" font-size="9.32" font-weight="bold" text-anchor="middle" fill="#111" stroke="#111" stroke-width="0.22">0</text>
<line x1="266.0" y1="338.8" x2="269.5" y2="338.8" stroke="#444" stroke-width="0.8"/>
<text transform="translate(264.1 342.3) scale(1.03 1)" font-size="9.32" font-weight="bold" text-anchor="end" fill="#111" stroke="#111" stroke-width="0.22">0.1</text>
<line x1="266.0" y1="321.8" x2="269.5" y2="321.8" stroke="#444" stroke-width="0.8"/>
<text transform="translate(264.1 325.3) scale(1.03 1)" font-size="9.32" font-weight="bold" text-anchor="end" fill="#111" stroke="#111" stroke-width="0.22">0.2</text>
<line x1="266.0" y1="304.9" x2="269.5" y2="304.9" stroke="#444" stroke-width="0.8"/>
<text transform="translate(264.1 308.4) scale(1.03 1)" font-size="9.32" font-weight="bold" text-anchor="end" fill="#111" stroke="#111" stroke-width="0.22">0.3</text>
<line x1="266.0" y1="287.9" x2="269.5" y2="287.9" stroke="#444" stroke-width="0.8"/>
<text transform="translate(264.1 291.4) scale(1.03 1)" font-size="9.32" font-weight="bold" text-anchor="end" fill="#111" stroke="#111" stroke-width="0.22">0.4</text>
<line x1="266.0" y1="270.9" x2="269.5" y2="270.9" stroke="#444" stroke-width="0.8"/>
<text transform="translate(264.1 274.4) scale(1.03 1)" font-size="9.32" font-weight="bold" text-anchor="end" fill="#111" stroke="#111" stroke-width="0.22">0.5</text>
<line x1="276.8" y1="447.3" x2="276.8" y2="450.5" stroke="#444" stroke-width="0.8"/>
<text transform="translate(279.9 452.8) rotate(-90) scale(1.087 1)" font-size="7.91" font-weight="normal" text-anchor="end" fill="#111" stroke="#111" stroke-width="0.42">cg23141183</text>
<line x1="309.8" y1="447.3" x2="309.8" y2="450.5" stroke="#444" stroke-width="0.8"/>
<text transform="translate(312.9 452.8) rotate(-90) scale(1.087 1)" font-size="7.91" font-weight="normal" text-anchor="end" fill="#111" stroke="#111" stroke-width="0.42">cg21453758</text>
<line x1="342.8" y1="447.3" x2="342.8" y2="450.5" stroke="#444" stroke-width="0.8"/>
<text transform="translate(345.9 452.8) rotate(-90) scale(1.087 1)" font-size="7.91" font-weight="normal" text-anchor="end" fill="#111" stroke="#111" stroke-width="0.42">cg18345635</text>
<line x1="375.8" y1="447.3" x2="375.8" y2="450.5" stroke="#444" stroke-width="0.8"/>
<text transform="translate(378.9 452.8) rotate(-90) scale(1.087 1)" font-size="7.91" font-weight="normal" text-anchor="end" fill="#111" stroke="#111" stroke-width="0.42">cg04184297</text>
<line x1="408.8" y1="447.3" x2="408.8" y2="450.5" stroke="#444" stroke-width="0.8"/>
<text transform="translate(411.9 452.8) rotate(-90) scale(1.087 1)" font-size="7.91" font-weight="normal" text-anchor="end" fill="#111" stroke="#111" stroke-width="0.42">cg14417329</text>
<line x1="441.8" y1="447.3" x2="441.8" y2="450.5" stroke="#444" stroke-width="0.8"/>
<text transform="translate(444.9 452.8) rotate(-90) scale(1.087 1)" font-size="7.91" font-weight="normal" text-anchor="end" fill="#111" stroke="#111" stroke-width="0.42">cg08296680</text>
<line x1="474.8" y1="447.3" x2="474.8" y2="450.5" stroke="#444" stroke-width="0.8"/>
<text transform="translate(477.9 452.8) rotate(-90) scale(1.087 1)" font-size="7.91" font-weight="normal" text-anchor="end" fill="#111" stroke="#111" stroke-width="0.42">cg14654468</text>
<text transform="translate(238.6 359.5) rotate(-90) scale(1.02 1)" font-size="11.27" font-weight="bold" text-anchor="middle" fill="#111" stroke="#111" stroke-width="0.22">Signal methylation array</text>
<polygon points="276.8,279.4 309.8,272.6 342.8,321.3 375.8,352.7 408.8,353.1 441.8,364.5 474.8,365.8 474.8,377.5 441.8,379.4 408.8,364.5 375.8,363.6 342.8,335.9 309.8,275.3 276.8,282.8" fill="rgba(214,52,62,0.30)"/>
<polygon points="276.8,281.6 309.8,273.3 342.8,337.5 375.8,354.1 408.8,346.3 441.8,355.8 474.8,359.5 474.8,413.5 441.8,419.1 408.8,395.4 375.8,397.6 342.8,370.2 309.8,276.3 276.8,288.6" fill="rgba(100,96,205,0.40)"/>
<polyline points="276.8,285.7 309.8,274.6 342.8,352.7 375.8,375.3 408.8,368.5 441.8,385.0 474.8,389.3" fill="none" stroke="#2e3890" stroke-width="1.15"/>
<path d="M274.4 285.7 L276.8 283.3 L279.2 285.7 L276.8 288.1Z" fill="#2e3890"/>
<path d="M307.4 274.6 L309.8 272.2 L312.2 274.6 L309.8 277.0Z" fill="#2e3890"/>
<path d="M340.4 352.7 L342.8 350.3 L345.2 352.7 L342.8 355.1Z" fill="#2e3890"/>
<path d="M373.4 375.3 L375.8 372.9 L378.2 375.3 L375.8 377.7Z" fill="#2e3890"/>
<path d="M406.4 368.5 L408.8 366.1 L411.2 368.5 L408.8 370.9Z" fill="#2e3890"/>
<path d="M439.4 385.0 L441.8 382.6 L444.2 385.0 L441.8 387.4Z" fill="#2e3890"/>
<path d="M472.4 389.3 L474.8 386.9 L477.2 389.3 L474.8 391.7Z" fill="#2e3890"/>
<polyline points="276.8,281.1 309.8,274.0 342.8,327.3 375.8,358.5 408.8,358.9 441.8,371.8 474.8,371.8" fill="none" stroke="#98283c" stroke-width="1.15"/>
<path d="M274.4 281.1 L276.8 278.7 L279.2 281.1 L276.8 283.5Z" fill="#98283c"/>
<path d="M307.4 274.0 L309.8 271.6 L312.2 274.0 L309.8 276.4Z" fill="#98283c"/>
<path d="M340.4 327.3 L342.8 324.9 L345.2 327.3 L342.8 329.7Z" fill="#98283c"/>
<path d="M373.4 358.5 L375.8 356.1 L378.2 358.5 L375.8 360.9Z" fill="#98283c"/>
<path d="M406.4 358.9 L408.8 356.5 L411.2 358.9 L408.8 361.3Z" fill="#98283c"/>
<path d="M439.4 371.8 L441.8 369.4 L444.2 371.8 L441.8 374.2Z" fill="#98283c"/>
<path d="M472.4 371.8 L474.8 369.4 L477.2 371.8 L474.8 374.2Z" fill="#98283c"/>
<line x1="399.6" y1="286.5" x2="416.9" y2="286.5" stroke="#2e3890" stroke-width="1.3"/>
<path d="M405.5 286.5 L408.2 283.8 L410.9 286.5 L408.2 289.2Z" fill="#2e3890"/>
<text transform="translate(420.8 290.4) scale(1.04 1)" font-size="10.19" font-weight="bold" text-anchor="start" fill="#111" stroke="#111" stroke-width="0.22">ccRCC</text>
<line x1="399.6" y1="298.9" x2="416.9" y2="298.9" stroke="#98283c" stroke-width="1.3"/>
<path d="M405.5 298.9 L408.2 296.2 L410.9 298.9 L408.2 301.59999999999997Z" fill="#98283c"/>
<text transform="translate(420.8 302.8) scale(1.04 1)" font-size="10.19" font-weight="bold" text-anchor="start" fill="#111" stroke="#111" stroke-width="0.22">Nontumor</text>
</g>
<g id="panelC">
<text transform="translate(108 563.7) scale(1.04 1)" font-size="15.5" font-weight="bold" text-anchor="start" fill="#111" stroke="#111" stroke-width="0.22">C</text>
<polyline points="168.4,557.3 381,557.3 381,766.2" fill="none" stroke="#b5b5b5" stroke-width="1"/>
<line x1="340.5" y1="557.3" x2="340.5" y2="766.2" stroke="#b5b5b5" stroke-width="1"/>
<line x1="342.8" y1="557.3" x2="342.8" y2="766.2" stroke="#b5b5b5" stroke-width="1"/>
<line x1="165.6" y1="758.9" x2="168" y2="758.9" stroke="#999" stroke-width="0.6"/>
<text transform="translate(162.2 761.7) scale(1.0 1)" font-size="7.4" font-weight="bold" text-anchor="end" fill="#111" stroke="#111" stroke-width="0.22">0.0</text>
<line x1="165.6" y1="720.2" x2="168" y2="720.2" stroke="#999" stroke-width="0.6"/>
<text transform="translate(162.2 723.0) scale(1.0 1)" font-size="7.4" font-weight="bold" text-anchor="end" fill="#111" stroke="#111" stroke-width="0.22">0.2</text>
<line x1="165.6" y1="681.5" x2="168" y2="681.5" stroke="#999" stroke-width="0.6"/>
<text transform="translate(162.2 684.3) scale(1.0 1)" font-size="7.4" font-weight="bold" text-anchor="end" fill="#111" stroke="#111" stroke-width="0.22">0.4</text>
<line x1="165.6" y1="642.7" x2="168" y2="642.7" stroke="#999" stroke-width="0.6"/>
<text transform="translate(162.2 645.5) scale(1.0 1)" font-size="7.4" font-weight="bold" text-anchor="end" fill="#111" stroke="#111" stroke-width="0.22">0.6</text>
<line x1="165.6" y1="604.0" x2="168" y2="604.0" stroke="#999" stroke-width="0.6"/>
<text transform="translate(162.2 606.8) scale(1.0 1)" font-size="7.4" font-weight="bold" text-anchor="end" fill="#111" stroke="#111" stroke-width="0.22">0.8</text>
<line x1="165.6" y1="565.3" x2="168" y2="565.3" stroke="#999" stroke-width="0.6"/>
<text transform="translate(162.2 568.1) scale(1.0 1)" font-size="7.4" font-weight="bold" text-anchor="end" fill="#111" stroke="#111" stroke-width="0.22">1.0</text>
<line x1="176.2" y1="766.3" x2="176.2" y2="768" stroke="#ccc" stroke-width="0.6"/>
<text transform="translate(176.2 778.0) scale(1.0 1)" font-size="7.5" font-weight="bold" text-anchor="middle" fill="#111" stroke="#111" stroke-width="0.22">0</text>
<line x1="208.5" y1="766.3" x2="208.5" y2="768" stroke="#ccc" stroke-width="0.6"/>
<text transform="translate(208.5 778.0) scale(1.0 1)" font-size="7.5" font-weight="bold" text-anchor="middle" fill="#111" stroke="#111" stroke-width="0.22">1</text>
<line x1="241.4" y1="766.3" x2="241.4" y2="768" stroke="#ccc" stroke-width="0.6"/>
<text transform="translate(241.4 778.0) scale(1.0 1)" font-size="7.5" font-weight="bold" text-anchor="middle" fill="#111" stroke="#111" stroke-width="0.22">2</text>
<line x1="274.3" y1="766.3" x2="274.3" y2="768" stroke="#ccc" stroke-width="0.6"/>
<text transform="translate(274.3 778.0) scale(1.0 1)" font-size="7.5" font-weight="bold" text-anchor="middle" fill="#111" stroke="#111" stroke-width="0.22">3</text>
<line x1="306.8" y1="766.3" x2="306.8" y2="768" stroke="#ccc" stroke-width="0.6"/>
<text transform="translate(306.8 778.0) scale(1.0 1)" font-size="7.5" font-weight="bold" text-anchor="middle" fill="#111" stroke="#111" stroke-width="0.22">4</text>
<line x1="340" y1="766.3" x2="340" y2="768" stroke="#ccc" stroke-width="0.6"/>
<text transform="translate(340 778.0) scale(1.0 1)" font-size="7.5" font-weight="bold" text-anchor="middle" fill="#111" stroke="#111" stroke-width="0.22">5</text>
<line x1="348.8" y1="766.3" x2="348.8" y2="768" stroke="#ccc" stroke-width="0.6"/>
<text transform="translate(348.8 778.0) scale(1.0 1)" font-size="7.5" font-weight="bold" text-anchor="middle" fill="#111" stroke="#111" stroke-width="0.22">6</text>
<line x1="362" y1="766.3" x2="362" y2="768" stroke="#ccc" stroke-width="0.6"/>
<text transform="translate(362 778.0) scale(1.0 1)" font-size="7.5" font-weight="bold" text-anchor="middle" fill="#111" stroke="#111" stroke-width="0.22">8</text>
<line x1="375.4" y1="766.3" x2="375.4" y2="768" stroke="#ccc" stroke-width="0.6"/>
<text transform="translate(375.4 778.0) scale(1.0 1)" font-size="7.5" font-weight="bold" text-anchor="middle" fill="#111" stroke="#111" stroke-width="0.22">10</text>
<text transform="translate(273 789.6) scale(1.0 1)" font-size="10.0" font-weight="bold" text-anchor="middle" fill="#111" stroke="#111" stroke-width="0.22">Follow-up (years)</text>
<text transform="translate(142.3 662.7) rotate(-90) scale(1.0 1)" font-size="10.05" font-weight="bold" text-anchor="middle" fill="#111" stroke="#111" stroke-width="0.22">Survival probability</text>
<polyline points="177.3,565.4 182,574 185,578 185,582 188.5,582 188.5,590 190.8,590 190.8,594.2 200.6,594.2 200.6,595.6 204.3,595.6 204.3,605.8 218.2,605.8 218.2,619.6 229.2,619.6 229.2,640.4 241.9,640.4 241.9,647.3 250,647.3 250,654.7 254.6,654.7 254.6,661.2 267.3,661.2 267.3,670.6 295.8,670.6 295.8,678.8 298.8,678.8 298.8,687 302.3,689.2 331.2,689.2 331.2,702.6 345,702.6 345,730.6 358.8,730.6" fill="none" stroke="#b0b0b0" stroke-width="0.9"/>
<line x1="200.6" y1="590" x2="200.6" y2="598" stroke="#b0b0b0" stroke-width="0.8"/>
<line x1="205" y1="601.8" x2="205" y2="609.8" stroke="#b0b0b0" stroke-width="0.8"/>
<line x1="207.8" y1="601.8" x2="207.8" y2="609.8" stroke="#b0b0b0" stroke-width="0.8"/>
<line x1="255.8" y1="657.2" x2="255.8" y2="665.2" stroke="#b0b0b0" stroke-width="0.8"/>
<line x1="259.7" y1="657.2" x2="259.7" y2="665.2" stroke="#b0b0b0" stroke-width="0.8"/>
<line x1="266.6" y1="657.2" x2="266.6" y2="665.2" stroke="#b0b0b0" stroke-width="0.8"/>
<line x1="304.6" y1="685.2" x2="304.6" y2="693.2" stroke="#b0b0b0" stroke-width="0.8"/>
<line x1="309.2" y1="685.2" x2="309.2" y2="693.2" stroke="#b0b0b0" stroke-width="0.8"/>
<line x1="324.9" y1="685.2" x2="324.9" y2="693.2" stroke="#b0b0b0" stroke-width="0.8"/>
<line x1="331.2" y1="698.6" x2="331.2" y2="706.6" stroke="#b0b0b0" stroke-width="0.8"/>
<line x1="358.8" y1="726.6" x2="358.8" y2="734.6" stroke="#b0b0b0" stroke-width="0.8"/>
<polyline points="176.3,565.1 180.2,565.1 180.2,565.3 181.0,565.3 181.0,568.3 182.5,568.3 182.5,570.0 185.0,570.0 185.0,574.0 188.0,574.0 188.0,575.8 190.1,575.8 190.1,577.0 192.2,577.0 192.2,578.1 194.8,578.1 194.8,582.1 197.7,582.1 197.7,583.8 199.7,583.8 199.7,584.0 201.7,584.0 201.7,584.2 203.8,584.2 203.8,586.4 206.0,586.4 206.0,588.5 207.5,588.5 207.5,590.2 210.4,590.2 210.4,590.3 213.3,590.3 213.3,590.5 216.2,590.5 216.2,590.6 218.8,590.6 218.8,592.0 221.3,592.0 221.3,593.5 224.8,593.5 224.8,594.0 228.0,594.0 228.0,597.1 230.4,597.1 230.4,599.6 232.8,599.6 232.8,600.2 235.2,600.2 235.2,600.8 237.6,600.8 237.6,601.4 240.0,601.4 240.0,602.0 242.5,602.0 242.5,602.6 244.9,602.6 244.9,603.2 247.4,603.2 247.4,603.8 249.8,603.8 249.8,604.4 252.3,604.4 252.3,605.0 254.7,605.0 254.7,606.0 257.1,606.0 257.1,607.0 259.6,607.0 259.6,608.0 262.0,608.0 262.0,609.0 264.7,609.0 264.7,610.2 267.3,610.2 267.3,611.3 270.0,611.3 270.0,612.5 272.3,612.5 272.3,613.3 274.6,613.3 274.6,614.1 276.9,614.1 276.9,615.0 279.2,615.0 279.2,615.8 281.8,615.8 281.8,616.8 284.4,616.8 284.4,617.9 287.0,617.9 287.0,619.0 289.6,619.0 289.6,620.0 292.3,620.0 292.3,620.2 295.0,620.2 295.0,620.3 297.7,620.3 297.7,620.5 300.4,620.5 300.4,620.7 303.1,620.7 303.1,620.8 305.8,620.8 305.8,621.0 308.1,621.0 308.1,622.2 310.4,622.2 310.4,623.5 312.7,623.5 312.7,623.9 315.0,623.9 315.0,624.2 317.3,624.2 317.3,624.6 320.8,624.6 320.8,631.5 323.1,631.5 323.1,633.2 325.4,633.2 325.4,635.0 339.2,635.0" fill="none" stroke="#111" stroke-width="0.9"/>
<polyline points="343.4,631.5 344.8,631.5 344.8,639.6 346.2,639.6 346.2,647.7 347.7,647.7 347.7,649.6 349.3,649.6 349.3,651.6 350.8,651.6 350.8,653.5 358.8,653.5 360.0,653.5 360.0,668.5 361.1,668.5 361.1,675.4 362.3,675.4 362.3,682.3 376.2,682.3" fill="none" stroke="#111" stroke-width="0.9"/>
<g stroke="#000" stroke-width="0.85">
<line x1="176.6" y1="560.4" x2="176.6" y2="569.8"/>
<line x1="177.5" y1="560.5" x2="177.5" y2="569.9"/>
<line x1="178.5" y1="560.5" x2="178.5" y2="569.9"/>
<line x1="179.4" y1="560.6" x2="179.4" y2="570.0"/>
<line x1="180.3" y1="561.0" x2="180.3" y2="570.4"/>
<line x1="183.1" y1="566.3" x2="183.1" y2="575.7"/>
<line x1="184.9" y1="569.1" x2="184.9" y2="578.5"/>
<line x1="186.5" y1="570.2" x2="186.5" y2="579.6"/>
<line x1="187.7" y1="570.9" x2="187.7" y2="580.3"/>
<line x1="188.8" y1="571.5" x2="188.8" y2="580.9"/>
<line x1="191.2" y1="572.9" x2="191.2" y2="582.3"/>
<line x1="192.3" y1="573.6" x2="192.3" y2="583.0"/>
<line x1="193.5" y1="575.4" x2="193.5" y2="584.8"/>
<line x1="195.8" y1="578.0" x2="195.8" y2="587.4"/>
<line x1="198.8" y1="579.2" x2="198.8" y2="588.6"/>
<line x1="201.5" y1="579.5" x2="201.5" y2="588.9"/>
<line x1="202.7" y1="580.5" x2="202.7" y2="589.9"/>
<line x1="207.8" y1="585.5" x2="207.8" y2="594.9"/>
<line x1="208.9" y1="585.6" x2="208.9" y2="595.0"/>
<line x1="210.1" y1="585.6" x2="210.1" y2="595.0"/>
<line x1="211.2" y1="585.7" x2="211.2" y2="595.1"/>
<line x1="212.4" y1="585.7" x2="212.4" y2="595.1"/>
<line x1="213.5" y1="585.8" x2="213.5" y2="595.2"/>
<line x1="214.7" y1="585.8" x2="214.7" y2="595.2"/>
<line x1="215.9" y1="585.9" x2="215.9" y2="595.3"/>
<line x1="221.9" y1="588.9" x2="221.9" y2="598.3"/>
<line x1="223.0" y1="589.0" x2="223.0" y2="598.4"/>
<line x1="224.2" y1="589.2" x2="224.2" y2="598.6"/>
<line x1="225.3" y1="589.8" x2="225.3" y2="599.2"/>
<line x1="230.4" y1="594.9" x2="230.4" y2="604.3"/>
<line x1="231.5" y1="595.2" x2="231.5" y2="604.6"/>
<line x1="234.3" y1="595.9" x2="234.3" y2="605.3"/>
<line x1="235.5" y1="596.2" x2="235.5" y2="605.6"/>
<line x1="236.6" y1="596.4" x2="236.6" y2="605.9"/>
<line x1="237.8" y1="596.8" x2="237.8" y2="606.2"/>
<line x1="239.6" y1="597.2" x2="239.6" y2="606.6"/>
<line x1="240.8" y1="597.5" x2="240.8" y2="606.9"/>
<line x1="241.9" y1="597.8" x2="241.9" y2="607.2"/>
<line x1="244.2" y1="598.3" x2="244.2" y2="607.7"/>
<line x1="245.9" y1="598.7" x2="245.9" y2="608.1"/>
<line x1="247.7" y1="599.2" x2="247.7" y2="608.6"/>
<line x1="253.5" y1="600.8" x2="253.5" y2="610.2"/>
<line x1="255.1" y1="601.5" x2="255.1" y2="610.9"/>
<line x1="258.1" y1="602.7" x2="258.1" y2="612.1"/>
<line x1="260.9" y1="603.8" x2="260.9" y2="613.2"/>
<line x1="262.7" y1="604.6" x2="262.7" y2="614.0"/>
<line x1="263.9" y1="605.1" x2="263.9" y2="614.5"/>
<line x1="266.2" y1="606.1" x2="266.2" y2="615.5"/>
<line x1="267.3" y1="606.6" x2="267.3" y2="616.0"/>
<line x1="269.6" y1="607.6" x2="269.6" y2="617.0"/>
<line x1="272.4" y1="608.7" x2="272.4" y2="618.1"/>
<line x1="276.5" y1="610.1" x2="276.5" y2="619.5"/>
<line x1="277.7" y1="610.6" x2="277.7" y2="620.0"/>
<line x1="279.5" y1="611.2" x2="279.5" y2="620.6"/>
<line x1="272.3" y1="608.6" x2="272.3" y2="618.0"/>
<line x1="278.1" y1="610.7" x2="278.1" y2="620.1"/>
<line x1="280.4" y1="611.6" x2="280.4" y2="621.0"/>
<line x1="290.8" y1="615.4" x2="290.8" y2="624.8"/>
<line x1="292.4" y1="615.5" x2="292.4" y2="624.9"/>
<line x1="294.0" y1="615.6" x2="294.0" y2="625.0"/>
<line x1="295.6" y1="615.7" x2="295.6" y2="625.1"/>
<line x1="297.2" y1="615.8" x2="297.2" y2="625.2"/>
<line x1="298.8" y1="615.9" x2="298.8" y2="625.3"/>
<line x1="300.5" y1="616.0" x2="300.5" y2="625.4"/>
<line x1="303.5" y1="616.2" x2="303.5" y2="625.6"/>
<line x1="304.6" y1="616.2" x2="304.6" y2="625.6"/>
<line x1="305.8" y1="616.3" x2="305.8" y2="625.7"/>
<line x1="309.7" y1="618.4" x2="309.7" y2="627.8"/>
<line x1="311.1" y1="618.9" x2="311.1" y2="628.3"/>
<line x1="312.7" y1="619.2" x2="312.7" y2="628.6"/>
<line x1="313.8" y1="619.3" x2="313.8" y2="628.7"/>
<line x1="315.5" y1="619.6" x2="315.5" y2="629.0"/>
<line x1="316.8" y1="619.8" x2="316.8" y2="629.2"/>
<line x1="326.1" y1="630.3" x2="326.1" y2="639.7"/>
<line x1="328.2" y1="630.3" x2="328.2" y2="639.7"/>
<line x1="330.5" y1="630.3" x2="330.5" y2="639.7"/>
<line x1="332.8" y1="630.3" x2="332.8" y2="639.7"/>
<line x1="335.8" y1="630.3" x2="335.8" y2="639.7"/>
<line x1="336.9" y1="630.3" x2="336.9" y2="639.7"/>
<line x1="338.1" y1="630.3" x2="338.1" y2="639.7"/>
<line x1="339.2" y1="630.3" x2="339.2" y2="639.7"/>
<line x1="343.4" y1="626.8" x2="343.4" y2="636.2"/>
<line x1="344.1" y1="630.9" x2="344.1" y2="640.3"/>
<line x1="344.8" y1="634.9" x2="344.8" y2="644.3"/>
<line x1="345.5" y1="639.0" x2="345.5" y2="648.4"/>
<line x1="346.2" y1="643.0" x2="346.2" y2="652.4"/>
<line x1="348.5" y1="645.9" x2="348.5" y2="655.3"/>
<line x1="349.6" y1="647.3" x2="349.6" y2="656.7"/>
<line x1="350.8" y1="648.8" x2="350.8" y2="658.2"/>
<line x1="351.9" y1="648.8" x2="351.9" y2="658.2"/>
<line x1="353.1" y1="648.8" x2="353.1" y2="658.2"/>
<line x1="354.2" y1="648.8" x2="354.2" y2="658.2"/>
<line x1="355.9" y1="648.8" x2="355.9" y2="658.2"/>
<line x1="357.2" y1="648.8" x2="357.2" y2="658.2"/>
<line x1="358.6" y1="648.8" x2="358.6" y2="658.2"/>
<line x1="362.3" y1="677.6" x2="362.3" y2="687.0"/>
<line x1="364.6" y1="677.6" x2="364.6" y2="687.0"/>
<line x1="368.1" y1="677.6" x2="368.1" y2="687.0"/>
<line x1="371.5" y1="677.6" x2="371.5" y2="687.0"/>
<line x1="375.7" y1="677.6" x2="375.7" y2="687.0"/>
</g>
<text transform="translate(173.7 722.2) scale(1.0 1)" font-size="9.4" font-weight="bold" text-anchor="start" fill="#111" stroke="#111" stroke-width="0.22">HR = 0.39 (95% CI, 0.24−0.64]</text>
<text transform="translate(173.7 732.4) scale(1.0 1)" font-size="9.4" font-weight="bold" text-anchor="start" fill="#111" stroke="#111" stroke-width="0.22">Log-rank <tspan font-style="italic">P</tspan> = 1.23e<tspan font-size="5.6" dy="-3.4">−04</tspan></text>
<line x1="173.7" y1="747.4" x2="186.7" y2="747.4" stroke="#b8b8b8" stroke-width="0.9"/>
<line x1="173.7" y1="758.4" x2="186.7" y2="758.4" stroke="#111" stroke-width="1"/>
<text transform="translate(191.6 750.1) scale(1.0 1)" font-size="8.3" font-weight="bold" text-anchor="start" fill="#111" stroke="#111" stroke-width="0.22">Low DNA methylation ccRCC</text>
<text transform="translate(191.6 761.0) scale(1.0 1)" font-size="8.3" font-weight="bold" text-anchor="start" fill="#111" stroke="#111" stroke-width="0.22">High DNA methylation ccRCC</text>
</g>
</g>
</svg></body></html>
